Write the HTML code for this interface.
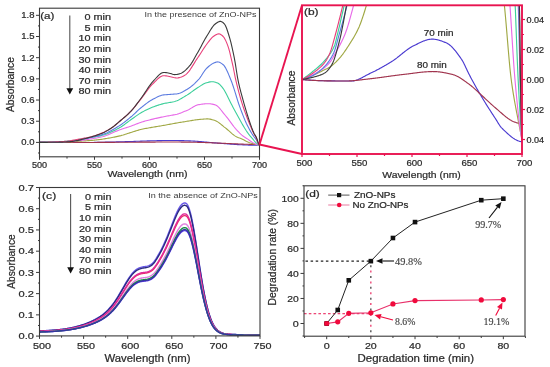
<!DOCTYPE html><html><head><meta charset="utf-8"><style>html,body{margin:0;padding:0;background:#fff;width:550px;height:367px;overflow:hidden}svg{display:block;will-change:transform}text{font-family:"Liberation Sans", sans-serif}</style></head><body>
<svg width="550" height="367" viewBox="0 0 550 367">
<defs>
<clipPath id="ca"><rect x="39.5" y="8.2" width="220.0" height="148.60000000000002"/></clipPath>
<clipPath id="cb"><rect x="302.0" y="5.3" width="220.0" height="148.7"/></clipPath>
<clipPath id="cc"><rect x="39.5" y="187.5" width="220.5" height="148.39999999999998"/></clipPath>
</defs>
<rect width="550" height="367" fill="#fff"/>
<path d="M39.5,142.4 L40.6,142.4 L41.7,142.41 L42.8,142.41 L43.9,142.42 L45,142.42 L46.1,142.42 L47.2,142.43 L48.3,142.43 L49.4,142.43 L50.5,142.44 L51.6,142.44 L52.7,142.44 L53.8,142.45 L54.9,142.45 L56,142.45 L57.1,142.45 L58.2,142.45 L59.3,142.46 L60.4,142.46 L61.5,142.46 L62.6,142.46 L63.7,142.46 L64.8,142.46 L65.9,142.46 L67,142.46 L68.1,142.47 L69.2,142.47 L70.3,142.47 L71.4,142.47 L72.5,142.47 L73.6,142.47 L74.7,142.47 L75.8,142.47 L76.9,142.47 L78,142.47 L79.1,142.47 L80.2,142.47 L81.3,142.47 L82.4,142.47 L83.5,142.47 L84.6,142.47 L85.7,142.47 L86.8,142.47 L87.9,142.47 L89,142.47 L90.1,142.47 L91.2,142.46 L92.3,142.45 L93.4,142.44 L94.5,142.42 L95.6,142.4 L96.7,142.38 L97.8,142.35 L98.9,142.33 L100,142.3 L101.1,142.27 L102.2,142.25 L103.3,142.22 L104.4,142.19 L105.5,142.16 L106.6,142.14 L107.7,142.11 L108.8,142.09 L109.9,142.06 L111,142.04 L112.1,142.01 L113.2,141.98 L114.3,141.96 L115.4,141.93 L116.5,141.9 L117.6,141.87 L118.7,141.85 L119.8,141.82 L120.9,141.79 L122,141.76 L123.1,141.73 L124.2,141.7 L125.3,141.67 L126.4,141.64 L127.5,141.6 L128.6,141.57 L129.7,141.54 L130.8,141.51 L131.9,141.47 L133,141.43 L134.1,141.39 L135.2,141.35 L136.3,141.31 L137.4,141.27 L138.5,141.23 L139.6,141.19 L140.7,141.14 L141.8,141.1 L142.9,141.06 L144,141.02 L145.1,140.99 L146.2,140.95 L147.3,140.91 L148.4,140.88 L149.5,140.85 L150.6,140.82 L151.7,140.8 L152.8,140.77 L153.9,140.75 L155,140.72 L156.1,140.7 L157.2,140.67 L158.3,140.65 L159.4,140.62 L160.5,140.6 L161.6,140.58 L162.7,140.56 L163.8,140.55 L164.9,140.53 L166,140.52 L167.1,140.51 L168.2,140.5 L169.3,140.5 L170.4,140.5 L171.5,140.51 L172.6,140.51 L173.7,140.52 L174.8,140.53 L175.9,140.54 L177,140.56 L178.1,140.57 L179.2,140.59 L180.3,140.61 L181.4,140.63 L182.5,140.65 L183.6,140.67 L184.7,140.7 L185.8,140.73 L186.9,140.76 L188,140.81 L189.1,140.86 L190.2,140.91 L191.3,140.96 L192.4,141.03 L193.5,141.09 L194.6,141.16 L195.7,141.23 L196.8,141.3 L197.9,141.37 L199,141.45 L200.1,141.53 L201.2,141.63 L202.3,141.73 L203.4,141.84 L204.5,141.95 L205.6,142.06 L206.7,142.17 L207.8,142.26 L208.9,142.36 L210,142.46 L211.1,142.55 L212.2,142.65 L213.3,142.74 L214.4,142.83 L215.5,142.92 L216.6,143.01 L217.7,143.1 L218.8,143.19 L219.9,143.27 L221,143.36 L222.1,143.44 L223.2,143.53 L224.3,143.61 L225.4,143.69 L226.5,143.77 L227.6,143.86 L228.7,143.94 L229.8,144.02 L230.9,144.1 L232,144.17 L233.1,144.25 L234.2,144.34 L235.3,144.42 L236.4,144.5 L237.5,144.58 L238.6,144.65 L239.7,144.7 L240.8,144.76 L241.9,144.81 L243,144.86 L244.1,144.9 L245.2,144.95 L246.3,145 L247.4,145.04 L248.5,145.08 L249.6,145.12 L250.7,145.16 L251.8,145.19 L252.9,145.22 L254,145.25 L255.1,145.28 L256.2,145.3 L257.3,145.31 L258.4,145.32 L259.5,145.33" fill="none" stroke="#4a3ad0" stroke-width="1.1" stroke-linejoin="round" clip-path="url(#ca)"/>
<path d="M39.5,142.4 L40.6,142.41 L41.7,142.41 L42.8,142.41 L43.9,142.42 L45,142.42 L46.1,142.43 L47.2,142.43 L48.3,142.43 L49.4,142.44 L50.5,142.44 L51.6,142.44 L52.7,142.45 L53.8,142.45 L54.9,142.45 L56,142.45 L57.1,142.46 L58.2,142.46 L59.3,142.46 L60.4,142.46 L61.5,142.46 L62.6,142.46 L63.7,142.46 L64.8,142.47 L65.9,142.47 L67,142.47 L68.1,142.47 L69.2,142.47 L70.3,142.47 L71.4,142.47 L72.5,142.47 L73.6,142.47 L74.7,142.47 L75.8,142.47 L76.9,142.47 L78,142.47 L79.1,142.47 L80.2,142.47 L81.3,142.47 L82.4,142.47 L83.5,142.47 L84.6,142.47 L85.7,142.47 L86.8,142.47 L87.9,142.46 L89,142.46 L90.1,142.46 L91.2,142.45 L92.3,142.45 L93.4,142.44 L94.5,142.44 L95.6,142.43 L96.7,142.43 L97.8,142.42 L98.9,142.41 L100,142.41 L101.1,142.4 L102.2,142.4 L103.3,142.39 L104.4,142.38 L105.5,142.38 L106.6,142.37 L107.7,142.36 L108.8,142.36 L109.9,142.35 L111,142.35 L112.1,142.34 L113.2,142.33 L114.3,142.33 L115.4,142.32 L116.5,142.31 L117.6,142.31 L118.7,142.3 L119.8,142.29 L120.9,142.29 L122,142.28 L123.1,142.27 L124.2,142.26 L125.3,142.26 L126.4,142.25 L127.5,142.24 L128.6,142.24 L129.7,142.23 L130.8,142.22 L131.9,142.22 L133,142.21 L134.1,142.2 L135.2,142.19 L136.3,142.19 L137.4,142.18 L138.5,142.18 L139.6,142.17 L140.7,142.16 L141.8,142.16 L142.9,142.15 L144,142.15 L145.1,142.14 L146.2,142.13 L147.3,142.13 L148.4,142.12 L149.5,142.11 L150.6,142.11 L151.7,142.1 L152.8,142.09 L153.9,142.09 L155,142.08 L156.1,142.07 L157.2,142.07 L158.3,142.06 L159.4,142.06 L160.5,142.05 L161.6,142.05 L162.7,142.04 L163.8,142.04 L164.9,142.03 L166,142.03 L167.1,142.03 L168.2,142.03 L169.3,142.03 L170.4,142.03 L171.5,142.03 L172.6,142.03 L173.7,142.03 L174.8,142.03 L175.9,142.04 L177,142.04 L178.1,142.05 L179.2,142.06 L180.3,142.07 L181.4,142.08 L182.5,142.09 L183.6,142.1 L184.7,142.11 L185.8,142.12 L186.9,142.13 L188,142.14 L189.1,142.15 L190.2,142.17 L191.3,142.18 L192.4,142.2 L193.5,142.22 L194.6,142.25 L195.7,142.27 L196.8,142.3 L197.9,142.33 L199,142.37 L200.1,142.4 L201.2,142.44 L202.3,142.48 L203.4,142.51 L204.5,142.55 L205.6,142.59 L206.7,142.63 L207.8,142.66 L208.9,142.71 L210,142.75 L211.1,142.8 L212.2,142.84 L213.3,142.89 L214.4,142.94 L215.5,142.99 L216.6,143.03 L217.7,143.08 L218.8,143.13 L219.9,143.17 L221,143.22 L222.1,143.27 L223.2,143.32 L224.3,143.37 L225.4,143.42 L226.5,143.47 L227.6,143.52 L228.7,143.56 L229.8,143.61 L230.9,143.65 L232,143.7 L233.1,143.74 L234.2,143.79 L235.3,143.83 L236.4,143.88 L237.5,143.92 L238.6,143.97 L239.7,144.01 L240.8,144.06 L241.9,144.1 L243,144.14 L244.1,144.18 L245.2,144.22 L246.3,144.26 L247.4,144.29 L248.5,144.32 L249.6,144.35 L250.7,144.38 L251.8,144.4 L252.9,144.42 L254,144.43 L255.1,144.45 L256.2,144.46 L257.3,144.48 L258.4,144.49 L259.5,144.5" fill="none" stroke="#a0344e" stroke-width="1.1" stroke-linejoin="round" clip-path="url(#ca)"/>
<path d="M39.5,142.4 L40.6,142.38 L41.7,142.36 L42.8,142.35 L43.9,142.33 L45,142.31 L46.1,142.29 L47.2,142.27 L48.3,142.25 L49.4,142.23 L50.5,142.2 L51.6,142.18 L52.7,142.16 L53.8,142.13 L54.9,142.11 L56,142.08 L57.1,142.06 L58.2,142.03 L59.3,142.01 L60.4,141.98 L61.5,141.95 L62.6,141.93 L63.7,141.9 L64.8,141.88 L65.9,141.85 L67,141.82 L68.1,141.79 L69.2,141.75 L70.3,141.71 L71.4,141.67 L72.5,141.62 L73.6,141.57 L74.7,141.52 L75.8,141.46 L76.9,141.4 L78,141.34 L79.1,141.28 L80.2,141.21 L81.3,141.14 L82.4,141.07 L83.5,140.99 L84.6,140.91 L85.7,140.83 L86.8,140.75 L87.9,140.67 L89,140.59 L90.1,140.51 L91.2,140.42 L92.3,140.33 L93.4,140.24 L94.5,140.13 L95.6,140.03 L96.7,139.91 L97.8,139.78 L98.9,139.65 L100,139.5 L101.1,139.34 L102.2,139.18 L103.3,139.01 L104.4,138.84 L105.5,138.66 L106.6,138.49 L107.7,138.3 L108.8,138.12 L109.9,137.93 L111,137.73 L112.1,137.53 L113.2,137.32 L114.3,137.1 L115.4,136.88 L116.5,136.65 L117.6,136.41 L118.7,136.16 L119.8,135.9 L120.9,135.63 L122,135.32 L123.1,135 L124.2,134.65 L125.3,134.3 L126.4,133.94 L127.5,133.57 L128.6,133.21 L129.7,132.86 L130.8,132.52 L131.9,132.18 L133,131.83 L134.1,131.49 L135.2,131.14 L136.3,130.79 L137.4,130.45 L138.5,130.13 L139.6,129.82 L140.7,129.53 L141.8,129.27 L142.9,129.03 L144,128.8 L145.1,128.58 L146.2,128.37 L147.3,128.17 L148.4,127.98 L149.5,127.79 L150.6,127.6 L151.7,127.41 L152.8,127.22 L153.9,127.03 L155,126.84 L156.1,126.66 L157.2,126.48 L158.3,126.3 L159.4,126.12 L160.5,125.94 L161.6,125.76 L162.7,125.58 L163.8,125.39 L164.9,125.19 L166,124.99 L167.1,124.78 L168.2,124.57 L169.3,124.36 L170.4,124.15 L171.5,123.94 L172.6,123.74 L173.7,123.53 L174.8,123.34 L175.9,123.15 L177,122.95 L178.1,122.77 L179.2,122.58 L180.3,122.4 L181.4,122.21 L182.5,122.03 L183.6,121.85 L184.7,121.68 L185.8,121.5 L186.9,121.33 L188,121.15 L189.1,120.96 L190.2,120.78 L191.3,120.59 L192.4,120.41 L193.5,120.24 L194.6,120.07 L195.7,119.91 L196.8,119.76 L197.9,119.63 L199,119.51 L200.1,119.4 L201.2,119.29 L202.3,119.19 L203.4,119.09 L204.5,119 L205.6,118.93 L206.7,118.9 L207.8,118.9 L208.9,118.98 L210,119.15 L211.1,119.39 L212.2,119.67 L213.3,119.99 L214.4,120.34 L215.5,120.71 L216.6,121.22 L217.7,121.86 L218.8,122.61 L219.9,123.44 L221,124.32 L222.1,125.24 L223.2,126.16 L224.3,127.07 L225.4,127.93 L226.5,128.79 L227.6,129.73 L228.7,130.7 L229.8,131.69 L230.9,132.68 L232,133.64 L233.1,134.55 L234.2,135.38 L235.3,136.13 L236.4,136.75 L237.5,137.26 L238.6,137.68 L239.7,138.07 L240.8,138.47 L241.9,138.92 L243,139.46 L244.1,140.05 L245.2,140.68 L246.3,141.29 L247.4,141.85 L248.5,142.32 L249.6,142.7 L250.7,143.04 L251.8,143.35 L252.9,143.64 L254,143.91 L255.1,144.18 L256.2,144.45 L257.3,144.72 L258.4,144.97 L259.5,145.22" fill="none" stroke="#a0a844" stroke-width="1.1" stroke-linejoin="round" clip-path="url(#ca)"/>
<path d="M39.5,142.4 L40.6,142.38 L41.7,142.36 L42.8,142.34 L43.9,142.32 L45,142.3 L46.1,142.27 L47.2,142.25 L48.3,142.22 L49.4,142.2 L50.5,142.17 L51.6,142.15 L52.7,142.12 L53.8,142.09 L54.9,142.06 L56,142.03 L57.1,142 L58.2,141.96 L59.3,141.93 L60.4,141.89 L61.5,141.86 L62.6,141.81 L63.7,141.77 L64.8,141.72 L65.9,141.67 L67,141.61 L68.1,141.55 L69.2,141.47 L70.3,141.38 L71.4,141.29 L72.5,141.19 L73.6,141.1 L74.7,141.01 L75.8,140.91 L76.9,140.82 L78,140.72 L79.1,140.62 L80.2,140.51 L81.3,140.4 L82.4,140.28 L83.5,140.14 L84.6,139.99 L85.7,139.83 L86.8,139.65 L87.9,139.47 L89,139.28 L90.1,139.08 L91.2,138.89 L92.3,138.7 L93.4,138.51 L94.5,138.32 L95.6,138.13 L96.7,137.93 L97.8,137.72 L98.9,137.5 L100,137.27 L101.1,137.02 L102.2,136.75 L103.3,136.45 L104.4,136.11 L105.5,135.74 L106.6,135.34 L107.7,134.91 L108.8,134.46 L109.9,134 L111,133.52 L112.1,133.04 L113.2,132.55 L114.3,132.07 L115.4,131.59 L116.5,131.13 L117.6,130.67 L118.7,130.24 L119.8,129.83 L120.9,129.45 L122,129.07 L123.1,128.7 L124.2,128.34 L125.3,127.99 L126.4,127.63 L127.5,127.28 L128.6,126.91 L129.7,126.54 L130.8,126.16 L131.9,125.76 L133,125.35 L134.1,124.93 L135.2,124.49 L136.3,124.06 L137.4,123.63 L138.5,123.21 L139.6,122.81 L140.7,122.43 L141.8,122.07 L142.9,121.73 L144,121.4 L145.1,121.09 L146.2,120.78 L147.3,120.49 L148.4,120.2 L149.5,119.92 L150.6,119.64 L151.7,119.37 L152.8,119.1 L153.9,118.84 L155,118.58 L156.1,118.34 L157.2,118.09 L158.3,117.85 L159.4,117.62 L160.5,117.38 L161.6,117.15 L162.7,116.93 L163.8,116.7 L164.9,116.48 L166,116.28 L167.1,116.08 L168.2,115.9 L169.3,115.71 L170.4,115.52 L171.5,115.33 L172.6,115.13 L173.7,114.91 L174.8,114.68 L175.9,114.43 L177,114.16 L178.1,113.85 L179.2,113.51 L180.3,113.13 L181.4,112.72 L182.5,112.28 L183.6,111.83 L184.7,111.36 L185.8,110.89 L186.9,110.41 L188,109.92 L189.1,109.4 L190.2,108.79 L191.3,108.13 L192.4,107.46 L193.5,106.79 L194.6,106.16 L195.7,105.61 L196.8,105.14 L197.9,104.81 L199,104.61 L200.1,104.44 L201.2,104.28 L202.3,104.14 L203.4,104.01 L204.5,103.9 L205.6,103.82 L206.7,103.75 L207.8,103.72 L208.9,103.72 L210,103.78 L211.1,103.92 L212.2,104.11 L213.3,104.35 L214.4,104.62 L215.5,104.96 L216.6,105.55 L217.7,106.4 L218.8,107.46 L219.9,108.68 L221,110 L222.1,111.4 L223.2,112.81 L224.3,114.19 L225.4,115.5 L226.5,116.8 L227.6,118.19 L228.7,119.64 L229.8,121.12 L230.9,122.62 L232,124.12 L233.1,125.59 L234.2,127.01 L235.3,128.36 L236.4,129.62 L237.5,130.82 L238.6,131.98 L239.7,133.11 L240.8,134.17 L241.9,135.15 L243,136.05 L244.1,136.82 L245.2,137.51 L246.3,138.17 L247.4,138.87 L248.5,139.65 L249.6,140.48 L250.7,141.29 L251.8,142.02 L252.9,142.63 L254,143.18 L255.1,143.71 L256.2,144.19 L257.3,144.62 L258.4,144.99 L259.5,145.29" fill="none" stroke="#e86ae8" stroke-width="1.1" stroke-linejoin="round" clip-path="url(#ca)"/>
<path d="M39.5,142.4 L40.6,142.37 L41.7,142.33 L42.8,142.29 L43.9,142.26 L45,142.22 L46.1,142.18 L47.2,142.14 L48.3,142.1 L49.4,142.06 L50.5,142.01 L51.6,141.97 L52.7,141.93 L53.8,141.89 L54.9,141.84 L56,141.8 L57.1,141.75 L58.2,141.71 L59.3,141.66 L60.4,141.6 L61.5,141.55 L62.6,141.49 L63.7,141.43 L64.8,141.37 L65.9,141.3 L67,141.24 L68.1,141.16 L69.2,141.07 L70.3,140.98 L71.4,140.87 L72.5,140.74 L73.6,140.54 L74.7,140.32 L75.8,140.11 L76.9,139.9 L78,139.67 L79.1,139.44 L80.2,139.22 L81.3,139 L82.4,138.79 L83.5,138.59 L84.6,138.41 L85.7,138.23 L86.8,138.06 L87.9,137.89 L89,137.73 L90.1,137.56 L91.2,137.4 L92.3,137.24 L93.4,137.07 L94.5,136.89 L95.6,136.71 L96.7,136.51 L97.8,136.31 L98.9,136.09 L100,135.86 L101.1,135.61 L102.2,135.34 L103.3,135.04 L104.4,134.71 L105.5,134.35 L106.6,133.96 L107.7,133.54 L108.8,133.09 L109.9,132.61 L111,132.12 L112.1,131.6 L113.2,131.07 L114.3,130.51 L115.4,129.95 L116.5,129.37 L117.6,128.78 L118.7,128.18 L119.8,127.57 L120.9,126.93 L122,126.23 L123.1,125.48 L124.2,124.7 L125.3,123.88 L126.4,123.06 L127.5,122.22 L128.6,121.4 L129.7,120.59 L130.8,119.81 L131.9,119.04 L133,118.25 L134.1,117.46 L135.2,116.67 L136.3,115.88 L137.4,115.11 L138.5,114.37 L139.6,113.65 L140.7,112.96 L141.8,112.32 L142.9,111.72 L144,111.13 L145.1,110.56 L146.2,110 L147.3,109.47 L148.4,108.95 L149.5,108.46 L150.6,107.99 L151.7,107.53 L152.8,107.1 L153.9,106.68 L155,106.28 L156.1,105.88 L157.2,105.5 L158.3,105.14 L159.4,104.79 L160.5,104.46 L161.6,104.14 L162.7,103.85 L163.8,103.57 L164.9,103.32 L166,103.11 L167.1,102.92 L168.2,102.74 L169.3,102.57 L170.4,102.39 L171.5,102.2 L172.6,101.98 L173.7,101.74 L174.8,101.45 L175.9,101.1 L177,100.68 L178.1,100.18 L179.2,99.64 L180.3,99.05 L181.4,98.42 L182.5,97.77 L183.6,97.11 L184.7,96.45 L185.8,95.8 L186.9,95.14 L188,94.43 L189.1,93.69 L190.2,92.93 L191.3,92.14 L192.4,91.35 L193.5,90.56 L194.6,89.77 L195.7,89 L196.8,88.25 L197.9,87.54 L199,86.84 L200.1,86.13 L201.2,85.4 L202.3,84.7 L203.4,84.06 L204.5,83.51 L205.6,83.1 L206.7,82.75 L207.8,82.43 L208.9,82.13 L210,81.9 L211.1,81.74 L212.2,81.68 L213.3,81.76 L214.4,81.96 L215.5,82.27 L216.6,82.66 L217.7,83.1 L218.8,83.74 L219.9,84.69 L221,85.85 L222.1,87.12 L223.2,88.55 L224.3,90.25 L225.4,92.17 L226.5,94.25 L227.6,96.44 L228.7,98.7 L229.8,100.98 L230.9,103.22 L232,105.37 L233.1,107.41 L234.2,109.44 L235.3,111.48 L236.4,113.53 L237.5,115.57 L238.6,117.59 L239.7,119.59 L240.8,121.56 L241.9,123.49 L243,125.36 L244.1,127.18 L245.2,128.98 L246.3,130.73 L247.4,132.39 L248.5,133.93 L249.6,135.32 L250.7,136.6 L251.8,137.85 L252.9,139.13 L254,140.52 L255.1,141.84 L256.2,142.9 L257.3,143.84 L258.4,144.65 L259.5,145.29" fill="none" stroke="#3ccf9a" stroke-width="1.1" stroke-linejoin="round" clip-path="url(#ca)"/>
<path d="M39.5,142.4 L40.6,142.39 L41.7,142.38 L42.8,142.36 L43.9,142.34 L45,142.32 L46.1,142.3 L47.2,142.28 L48.3,142.26 L49.4,142.23 L50.5,142.21 L51.6,142.18 L52.7,142.15 L53.8,142.12 L54.9,142.08 L56,142.04 L57.1,142 L58.2,141.96 L59.3,141.91 L60.4,141.86 L61.5,141.81 L62.6,141.76 L63.7,141.7 L64.8,141.64 L65.9,141.57 L67,141.5 L68.1,141.42 L69.2,141.33 L70.3,141.23 L71.4,141.12 L72.5,140.99 L73.6,140.82 L74.7,140.63 L75.8,140.43 L76.9,140.24 L78,140.06 L79.1,139.87 L80.2,139.69 L81.3,139.5 L82.4,139.31 L83.5,139.1 L84.6,138.89 L85.7,138.67 L86.8,138.45 L87.9,138.23 L89,138.01 L90.1,137.78 L91.2,137.54 L92.3,137.3 L93.4,137.05 L94.5,136.79 L95.6,136.53 L96.7,136.25 L97.8,135.95 L98.9,135.65 L100,135.33 L101.1,134.99 L102.2,134.63 L103.3,134.25 L104.4,133.83 L105.5,133.38 L106.6,132.9 L107.7,132.39 L108.8,131.85 L109.9,131.29 L111,130.71 L112.1,130.1 L113.2,129.48 L114.3,128.84 L115.4,128.18 L116.5,127.51 L117.6,126.83 L118.7,126.15 L119.8,125.46 L120.9,124.74 L122,123.98 L123.1,123.18 L124.2,122.35 L125.3,121.49 L126.4,120.61 L127.5,119.72 L128.6,118.81 L129.7,117.9 L130.8,116.98 L131.9,116.05 L133,115.07 L134.1,114.06 L135.2,113.03 L136.3,111.99 L137.4,110.96 L138.5,109.94 L139.6,108.95 L140.7,108 L141.8,107.1 L142.9,106.23 L144,105.36 L145.1,104.5 L146.2,103.66 L147.3,102.84 L148.4,102.05 L149.5,101.29 L150.6,100.59 L151.7,99.93 L152.8,99.33 L153.9,98.76 L155,98.19 L156.1,97.62 L157.2,97.08 L158.3,96.57 L159.4,96.1 L160.5,95.68 L161.6,95.34 L162.7,95.07 L163.8,94.89 L164.9,94.77 L166,94.68 L167.1,94.61 L168.2,94.54 L169.3,94.47 L170.4,94.39 L171.5,94.31 L172.6,94.23 L173.7,94.16 L174.8,94.07 L175.9,93.96 L177,93.83 L178.1,93.62 L179.2,93.32 L180.3,92.93 L181.4,92.46 L182.5,91.93 L183.6,91.35 L184.7,90.73 L185.8,90.08 L186.9,89.41 L188,88.74 L189.1,88.04 L190.2,87.27 L191.3,86.43 L192.4,85.52 L193.5,84.56 L194.6,83.55 L195.7,82.48 L196.8,81.37 L197.9,80.22 L199,79.01 L200.1,77.57 L201.2,75.96 L202.3,74.26 L203.4,72.56 L204.5,70.94 L205.6,69.48 L206.7,68.27 L207.8,67.24 L208.9,66.26 L210,65.37 L211.1,64.57 L212.2,63.88 L213.3,63.33 L214.4,62.84 L215.5,62.38 L216.6,62.05 L217.7,61.92 L218.8,62.07 L219.9,62.49 L221,63.12 L222.1,63.89 L223.2,64.74 L224.3,65.9 L225.4,67.58 L226.5,69.67 L227.6,72.06 L228.7,74.65 L229.8,77.33 L230.9,79.99 L232,82.81 L233.1,85.98 L234.2,89.38 L235.3,92.93 L236.4,96.53 L237.5,100.07 L238.6,103.46 L239.7,106.61 L240.8,109.58 L241.9,112.51 L243,115.37 L244.1,118.12 L245.2,120.73 L246.3,123.18 L247.4,125.44 L248.5,127.6 L249.6,129.66 L250.7,131.62 L251.8,133.46 L252.9,135.17 L254,136.75 L255.1,138.03 L256.2,139.61 L257.3,141.8 L258.4,143.66 L259.5,145.29" fill="none" stroke="#5b7be0" stroke-width="1.1" stroke-linejoin="round" clip-path="url(#ca)"/>
<path d="M39.5,142.4 L40.6,142.38 L41.7,142.35 L42.8,142.32 L43.9,142.3 L45,142.27 L46.1,142.23 L47.2,142.2 L48.3,142.17 L49.4,142.13 L50.5,142.1 L51.6,142.06 L52.7,142.02 L53.8,141.98 L54.9,141.94 L56,141.9 L57.1,141.86 L58.2,141.81 L59.3,141.76 L60.4,141.7 L61.5,141.64 L62.6,141.58 L63.7,141.5 L64.8,141.41 L65.9,141.31 L67,141.2 L68.1,141.07 L69.2,140.92 L70.3,140.74 L71.4,140.55 L72.5,140.35 L73.6,140.16 L74.7,139.97 L75.8,139.77 L76.9,139.56 L78,139.35 L79.1,139.14 L80.2,138.93 L81.3,138.73 L82.4,138.52 L83.5,138.33 L84.6,138.13 L85.7,137.93 L86.8,137.72 L87.9,137.5 L89,137.27 L90.1,137.02 L91.2,136.75 L92.3,136.46 L93.4,136.14 L94.5,135.8 L95.6,135.43 L96.7,135.04 L97.8,134.64 L98.9,134.22 L100,133.78 L101.1,133.33 L102.2,132.87 L103.3,132.39 L104.4,131.89 L105.5,131.36 L106.6,130.8 L107.7,130.22 L108.8,129.6 L109.9,128.96 L111,128.28 L112.1,127.55 L113.2,126.74 L114.3,125.89 L115.4,124.99 L116.5,124.06 L117.6,123.11 L118.7,122.16 L119.8,121.22 L120.9,120.29 L122,119.37 L123.1,118.43 L124.2,117.49 L125.3,116.54 L126.4,115.56 L127.5,114.56 L128.6,113.52 L129.7,112.45 L130.8,111.34 L131.9,110.16 L133,108.92 L134.1,107.63 L135.2,106.3 L136.3,104.93 L137.4,103.53 L138.5,102.12 L139.6,100.71 L140.7,99.31 L141.8,97.92 L142.9,96.51 L144,95.02 L145.1,93.5 L146.2,91.96 L147.3,90.43 L148.4,88.94 L149.5,87.5 L150.6,86.15 L151.7,84.91 L152.8,83.8 L153.9,82.74 L155,81.64 L156.1,80.53 L157.2,79.46 L158.3,78.45 L159.4,77.55 L160.5,76.79 L161.6,76.2 L162.7,75.82 L163.8,75.68 L164.9,75.74 L166,75.87 L167.1,76.07 L168.2,76.3 L169.3,76.53 L170.4,76.74 L171.5,76.96 L172.6,77.22 L173.7,77.48 L174.8,77.71 L175.9,77.88 L177,77.94 L178.1,77.87 L179.2,77.66 L180.3,77.33 L181.4,76.91 L182.5,76.43 L183.6,75.89 L184.7,75.33 L185.8,74.62 L186.9,73.66 L188,72.47 L189.1,71.09 L190.2,69.56 L191.3,67.9 L192.4,66.17 L193.5,64.39 L194.6,62.59 L195.7,60.82 L196.8,59.1 L197.9,57.47 L199,55.86 L200.1,54.18 L201.2,52.46 L202.3,50.74 L203.4,49.03 L204.5,47.36 L205.6,45.77 L206.7,44.27 L207.8,42.79 L208.9,41.3 L210,39.86 L211.1,38.54 L212.2,37.4 L213.3,36.5 L214.4,35.74 L215.5,35.02 L216.6,34.4 L217.7,33.98 L218.8,33.82 L219.9,34.04 L221,34.65 L222.1,35.51 L223.2,36.5 L224.3,37.89 L225.4,39.9 L226.5,42.36 L227.6,45.11 L228.7,48.42 L229.8,52.48 L230.9,57.04 L232,61.85 L233.1,66.74 L234.2,72.25 L235.3,77.77 L236.4,82.6 L237.5,87.09 L238.6,91.36 L239.7,95.41 L240.8,99.24 L241.9,102.86 L243,106.28 L244.1,109.52 L245.2,112.6 L246.3,115.56 L247.4,118.43 L248.5,121.22 L249.6,123.96 L250.7,126.63 L251.8,129.2 L252.9,131.65 L254,133.93 L255.1,135.79 L256.2,137.64 L257.3,140.89 L258.4,143.83 L259.5,145.22" fill="none" stroke="#e8407a" stroke-width="1.1" stroke-linejoin="round" clip-path="url(#ca)"/>
<path d="M39.5,142.4 L40.6,142.39 L41.7,142.38 L42.8,142.38 L43.9,142.37 L45,142.35 L46.1,142.34 L47.2,142.33 L48.3,142.32 L49.4,142.31 L50.5,142.29 L51.6,142.28 L52.7,142.27 L53.8,142.25 L54.9,142.24 L56,142.22 L57.1,142.2 L58.2,142.18 L59.3,142.16 L60.4,142.14 L61.5,142.11 L62.6,142.08 L63.7,142.04 L64.8,141.99 L65.9,141.93 L67,141.87 L68.1,141.79 L69.2,141.71 L70.3,141.61 L71.4,141.49 L72.5,141.34 L73.6,141.17 L74.7,140.99 L75.8,140.79 L76.9,140.59 L78,140.38 L79.1,140.14 L80.2,139.88 L81.3,139.61 L82.4,139.33 L83.5,139.04 L84.6,138.75 L85.7,138.46 L86.8,138.16 L87.9,137.87 L89,137.57 L90.1,137.27 L91.2,136.96 L92.3,136.64 L93.4,136.32 L94.5,135.98 L95.6,135.63 L96.7,135.27 L97.8,134.89 L98.9,134.5 L100,134.1 L101.1,133.67 L102.2,133.22 L103.3,132.74 L104.4,132.21 L105.5,131.63 L106.6,131.02 L107.7,130.37 L108.8,129.7 L109.9,129 L111,128.28 L112.1,127.52 L113.2,126.71 L114.3,125.85 L115.4,124.95 L116.5,124.03 L117.6,123.1 L118.7,122.16 L119.8,121.22 L120.9,120.29 L122,119.37 L123.1,118.45 L124.2,117.52 L125.3,116.57 L126.4,115.6 L127.5,114.59 L128.6,113.55 L129.7,112.47 L130.8,111.34 L131.9,110.13 L133,108.85 L134.1,107.51 L135.2,106.11 L136.3,104.67 L137.4,103.2 L138.5,101.71 L139.6,100.21 L140.7,98.7 L141.8,97.22 L142.9,95.69 L144,94.08 L145.1,92.41 L146.2,90.73 L147.3,89.04 L148.4,87.39 L149.5,85.8 L150.6,84.3 L151.7,82.92 L152.8,81.68 L153.9,80.49 L155,79.25 L156.1,78.01 L157.2,76.79 L158.3,75.65 L159.4,74.63 L160.5,73.76 L161.6,73.09 L162.7,72.66 L163.8,72.51 L164.9,72.55 L166,72.66 L167.1,72.83 L168.2,73.02 L169.3,73.21 L170.4,73.48 L171.5,73.84 L172.6,74.22 L173.7,74.51 L174.8,74.62 L175.9,74.57 L177,74.41 L178.1,74.17 L179.2,73.88 L180.3,73.57 L181.4,73.14 L182.5,72.53 L183.6,71.76 L184.7,70.86 L185.8,69.85 L186.9,68.76 L188,67.61 L189.1,66.43 L190.2,65.12 L191.3,63.57 L192.4,61.85 L193.5,59.99 L194.6,58.05 L195.7,56.07 L196.8,54.09 L197.9,52.17 L199,50.24 L200.1,48.23 L201.2,46.17 L202.3,44.1 L203.4,42.04 L204.5,40.03 L205.6,38.1 L206.7,36.29 L207.8,34.5 L208.9,32.66 L210,30.83 L211.1,29.07 L212.2,27.43 L213.3,25.96 L214.4,24.73 L215.5,23.79 L216.6,23.01 L217.7,22.28 L218.8,21.7 L219.9,21.37 L221,21.39 L222.1,21.89 L223.2,22.74 L224.3,23.79 L225.4,25.45 L226.5,28.03 L227.6,31.23 L228.7,34.73 L229.8,38.34 L230.9,42.44 L232,47.05 L233.1,52.08 L234.2,57.43 L235.3,63.43 L236.4,70.5 L237.5,77.36 L238.6,82.85 L239.7,87.58 L240.8,91.89 L241.9,95.93 L243,99.87 L244.1,103.82 L245.2,107.69 L246.3,111.44 L247.4,115.03 L248.5,118.44 L249.6,121.7 L250.7,124.87 L251.8,127.9 L252.9,130.7 L254,133.22 L255.1,135.16 L256.2,136.92 L257.3,139.65 L258.4,143.5 L259.5,145.22" fill="none" stroke="#3a3a3a" stroke-width="1.1" stroke-linejoin="round" clip-path="url(#ca)"/>
<rect x="39.5" y="8.2" width="220.0" height="148.60000000000002" fill="none" stroke="#3a3a3a" stroke-width="1.1"/>
<line x1="36" y1="142.4" x2="39.5" y2="142.4" stroke="#3a3a3a" stroke-width="1.0"/>
<text x="34.5" y="145.3" font-size="8.6" text-anchor="end" fill="#2a2a2a" stroke="#2a2a2a" stroke-width="0.22" textLength="13.2" lengthAdjust="spacingAndGlyphs">0.0</text>
<line x1="36" y1="121.22" x2="39.5" y2="121.22" stroke="#3a3a3a" stroke-width="1.0"/>
<text x="34.5" y="124.12" font-size="8.6" text-anchor="end" fill="#2a2a2a" stroke="#2a2a2a" stroke-width="0.22" textLength="13.2" lengthAdjust="spacingAndGlyphs">0.3</text>
<line x1="36" y1="100.04" x2="39.5" y2="100.04" stroke="#3a3a3a" stroke-width="1.0"/>
<text x="34.5" y="102.94" font-size="8.6" text-anchor="end" fill="#2a2a2a" stroke="#2a2a2a" stroke-width="0.22" textLength="13.2" lengthAdjust="spacingAndGlyphs">0.6</text>
<line x1="36" y1="78.86" x2="39.5" y2="78.86" stroke="#3a3a3a" stroke-width="1.0"/>
<text x="34.5" y="81.76" font-size="8.6" text-anchor="end" fill="#2a2a2a" stroke="#2a2a2a" stroke-width="0.22" textLength="13.2" lengthAdjust="spacingAndGlyphs">0.9</text>
<line x1="36" y1="57.68" x2="39.5" y2="57.68" stroke="#3a3a3a" stroke-width="1.0"/>
<text x="34.5" y="60.58" font-size="8.6" text-anchor="end" fill="#2a2a2a" stroke="#2a2a2a" stroke-width="0.22" textLength="13.2" lengthAdjust="spacingAndGlyphs">1.2</text>
<line x1="36" y1="36.5" x2="39.5" y2="36.5" stroke="#3a3a3a" stroke-width="1.0"/>
<text x="34.5" y="39.4" font-size="8.6" text-anchor="end" fill="#2a2a2a" stroke="#2a2a2a" stroke-width="0.22" textLength="13.2" lengthAdjust="spacingAndGlyphs">1.5</text>
<line x1="36" y1="15.32" x2="39.5" y2="15.32" stroke="#3a3a3a" stroke-width="1.0"/>
<text x="34.5" y="18.22" font-size="8.6" text-anchor="end" fill="#2a2a2a" stroke="#2a2a2a" stroke-width="0.22" textLength="13.2" lengthAdjust="spacingAndGlyphs">1.8</text>
<line x1="38" y1="152.99" x2="39.5" y2="152.99" stroke="#3a3a3a" stroke-width="1.0"/>
<line x1="38" y1="131.81" x2="39.5" y2="131.81" stroke="#3a3a3a" stroke-width="1.0"/>
<line x1="38" y1="110.63" x2="39.5" y2="110.63" stroke="#3a3a3a" stroke-width="1.0"/>
<line x1="38" y1="89.45" x2="39.5" y2="89.45" stroke="#3a3a3a" stroke-width="1.0"/>
<line x1="38" y1="68.27" x2="39.5" y2="68.27" stroke="#3a3a3a" stroke-width="1.0"/>
<line x1="38" y1="47.09" x2="39.5" y2="47.09" stroke="#3a3a3a" stroke-width="1.0"/>
<line x1="38" y1="25.91" x2="39.5" y2="25.91" stroke="#3a3a3a" stroke-width="1.0"/>
<line x1="39.5" y1="156.8" x2="39.5" y2="159.8" stroke="#3a3a3a" stroke-width="1.0"/>
<text x="39.5" y="168" font-size="8.6" text-anchor="middle" fill="#2a2a2a" stroke="#2a2a2a" stroke-width="0.22" textLength="15.2" lengthAdjust="spacingAndGlyphs">500</text>
<line x1="94.5" y1="156.8" x2="94.5" y2="159.8" stroke="#3a3a3a" stroke-width="1.0"/>
<text x="94.5" y="168" font-size="8.6" text-anchor="middle" fill="#2a2a2a" stroke="#2a2a2a" stroke-width="0.22" textLength="15.2" lengthAdjust="spacingAndGlyphs">550</text>
<line x1="149.5" y1="156.8" x2="149.5" y2="159.8" stroke="#3a3a3a" stroke-width="1.0"/>
<text x="149.5" y="168" font-size="8.6" text-anchor="middle" fill="#2a2a2a" stroke="#2a2a2a" stroke-width="0.22" textLength="15.2" lengthAdjust="spacingAndGlyphs">600</text>
<line x1="204.5" y1="156.8" x2="204.5" y2="159.8" stroke="#3a3a3a" stroke-width="1.0"/>
<text x="204.5" y="168" font-size="8.6" text-anchor="middle" fill="#2a2a2a" stroke="#2a2a2a" stroke-width="0.22" textLength="15.2" lengthAdjust="spacingAndGlyphs">650</text>
<line x1="259.5" y1="156.8" x2="259.5" y2="159.8" stroke="#3a3a3a" stroke-width="1.0"/>
<text x="259.5" y="168" font-size="8.6" text-anchor="middle" fill="#2a2a2a" stroke="#2a2a2a" stroke-width="0.22" textLength="15.2" lengthAdjust="spacingAndGlyphs">700</text>
<line x1="67" y1="156.8" x2="67" y2="158.6" stroke="#3a3a3a" stroke-width="1.0"/>
<line x1="122" y1="156.8" x2="122" y2="158.6" stroke="#3a3a3a" stroke-width="1.0"/>
<line x1="177" y1="156.8" x2="177" y2="158.6" stroke="#3a3a3a" stroke-width="1.0"/>
<line x1="232" y1="156.8" x2="232" y2="158.6" stroke="#3a3a3a" stroke-width="1.0"/>
<text x="147.5" y="176.8" font-size="9.8" text-anchor="middle" fill="#2a2a2a" stroke="#2a2a2a" stroke-width="0.22" textLength="80" lengthAdjust="spacingAndGlyphs">Wavelength (nm)</text>
<text x="14.4" y="84.6" font-size="10.2" text-anchor="middle" fill="#2a2a2a" stroke="#2a2a2a" stroke-width="0.22" textLength="55" lengthAdjust="spacingAndGlyphs" transform="rotate(-90 14.4 84.6)">Absorbance</text>
<text x="40.2" y="18.8" font-size="9.2" text-anchor="start" fill="#2a2a2a" stroke="#2a2a2a" stroke-width="0.22" textLength="14.2" lengthAdjust="spacingAndGlyphs">(a)</text>
<text x="256.6" y="17" font-size="7.6" text-anchor="end" fill="#3a3a3a" stroke="#3a3a3a" stroke-width="0" textLength="112" lengthAdjust="spacingAndGlyphs">In the presence of ZnO-NPs</text>
<text x="111" y="20.17" font-size="9.0" text-anchor="end" fill="#2a2a2a" stroke="#2a2a2a" stroke-width="0.22" textLength="26.56" lengthAdjust="spacingAndGlyphs">0 min</text>
<text x="111" y="30.76" font-size="9.0" text-anchor="end" fill="#2a2a2a" stroke="#2a2a2a" stroke-width="0.22" textLength="26.56" lengthAdjust="spacingAndGlyphs">5 min</text>
<text x="111" y="41.35" font-size="9.0" text-anchor="end" fill="#2a2a2a" stroke="#2a2a2a" stroke-width="0.22" textLength="32.6" lengthAdjust="spacingAndGlyphs">10 min</text>
<text x="111" y="51.94" font-size="9.0" text-anchor="end" fill="#2a2a2a" stroke="#2a2a2a" stroke-width="0.22" textLength="32.6" lengthAdjust="spacingAndGlyphs">20 min</text>
<text x="111" y="62.53" font-size="9.0" text-anchor="end" fill="#2a2a2a" stroke="#2a2a2a" stroke-width="0.22" textLength="32.6" lengthAdjust="spacingAndGlyphs">30 min</text>
<text x="111" y="73.12" font-size="9.0" text-anchor="end" fill="#2a2a2a" stroke="#2a2a2a" stroke-width="0.22" textLength="32.6" lengthAdjust="spacingAndGlyphs">40 min</text>
<text x="111" y="83.71" font-size="9.0" text-anchor="end" fill="#2a2a2a" stroke="#2a2a2a" stroke-width="0.22" textLength="32.6" lengthAdjust="spacingAndGlyphs">70 min</text>
<text x="111" y="94.3" font-size="9.0" text-anchor="end" fill="#2a2a2a" stroke="#2a2a2a" stroke-width="0.22" textLength="32.6" lengthAdjust="spacingAndGlyphs">80 min</text>
<line x1="69.8" y1="15.4" x2="69.8" y2="89" stroke="#555" stroke-width="1.1"/>
<path d="M66.4,88.2 L73.2,88.2 L69.8,94.6 Z" fill="#111"/>
<line x1="259.5" y1="144.5" x2="302" y2="5.3" stroke="#e81450" stroke-width="1.9"/>
<line x1="259.5" y1="144.5" x2="302" y2="154" stroke="#e81450" stroke-width="1.9"/>
<path d="M302,79.5 L302.55,79.55 L303.1,79.6 L303.65,79.65 L304.2,79.69 L304.75,79.74 L305.3,79.78 L305.85,79.82 L306.4,79.87 L306.95,79.91 L307.5,79.95 L308.05,79.99 L308.6,80.02 L309.15,80.06 L309.7,80.1 L310.25,80.13 L310.8,80.17 L311.35,80.2 L311.9,80.23 L312.45,80.26 L313,80.29 L313.55,80.32 L314.1,80.35 L314.65,80.38 L315.2,80.41 L315.75,80.43 L316.3,80.46 L316.85,80.49 L317.4,80.51 L317.95,80.53 L318.5,80.56 L319.05,80.58 L319.6,80.6 L320.15,80.62 L320.7,80.64 L321.25,80.66 L321.8,80.68 L322.35,80.69 L322.9,80.71 L323.45,80.73 L324,80.74 L324.55,80.76 L325.1,80.77 L325.65,80.79 L326.2,80.8 L326.75,80.81 L327.3,80.82 L327.85,80.84 L328.4,80.85 L328.95,80.86 L329.5,80.87 L330.05,80.88 L330.6,80.89 L331.15,80.9 L331.7,80.9 L332.25,80.91 L332.8,80.92 L333.35,80.93 L333.9,80.93 L334.45,80.94 L335,80.94 L335.55,80.95 L336.1,80.95 L336.65,80.96 L337.2,80.96 L337.75,80.97 L338.3,80.97 L338.85,80.97 L339.4,80.98 L339.95,80.98 L340.5,80.98 L341.05,80.99 L341.6,80.99 L342.15,80.99 L342.7,80.99 L343.25,80.99 L343.8,80.99 L344.35,81 L344.9,81 L345.45,81 L346,81 L346.55,81 L347.1,81 L347.65,81 L348.2,81 L348.75,81 L349.3,81 L349.85,81 L350.4,81 L350.95,81 L351.5,81 L352.05,80.99 L352.6,80.95 L353.15,80.89 L353.7,80.81 L354.25,80.71 L354.8,80.59 L355.35,80.45 L355.9,80.3 L356.45,80.13 L357,79.94 L357.55,79.73 L358.1,79.52 L358.65,79.29 L359.2,79.05 L359.75,78.8 L360.3,78.54 L360.85,78.27 L361.4,77.99 L361.95,77.71 L362.5,77.42 L363.05,77.12 L363.6,76.83 L364.15,76.53 L364.7,76.23 L365.25,75.93 L365.8,75.62 L366.35,75.32 L366.9,75.03 L367.45,74.73 L368,74.44 L368.55,74.16 L369.1,73.88 L369.65,73.61 L370.2,73.35 L370.75,73.09 L371.3,72.83 L371.85,72.57 L372.4,72.3 L372.95,72.03 L373.5,71.76 L374.05,71.49 L374.6,71.21 L375.15,70.94 L375.7,70.65 L376.25,70.37 L376.8,70.09 L377.35,69.8 L377.9,69.51 L378.45,69.22 L379,68.92 L379.55,68.63 L380.1,68.33 L380.65,68.03 L381.2,67.72 L381.75,67.42 L382.3,67.11 L382.85,66.8 L383.4,66.49 L383.95,66.17 L384.5,65.86 L385.05,65.54 L385.6,65.22 L386.15,64.9 L386.7,64.57 L387.25,64.25 L387.8,63.92 L388.35,63.59 L388.9,63.26 L389.45,62.92 L390,62.59 L390.55,62.25 L391.1,61.91 L391.65,61.57 L392.2,61.22 L392.75,60.86 L393.3,60.5 L393.85,60.12 L394.4,59.73 L394.95,59.33 L395.5,58.93 L396.05,58.51 L396.6,58.1 L397.15,57.67 L397.7,57.24 L398.25,56.81 L398.8,56.37 L399.35,55.93 L399.9,55.48 L400.45,55.04 L401,54.59 L401.55,54.15 L402.1,53.7 L402.65,53.26 L403.2,52.82 L403.75,52.38 L404.3,51.94 L404.85,51.51 L405.4,51.08 L405.95,50.66 L406.5,50.25 L407.05,49.84 L407.6,49.44 L408.15,49.05 L408.7,48.66 L409.25,48.29 L409.8,47.93 L410.35,47.58 L410.9,47.24 L411.45,46.91 L412,46.6 L412.55,46.3 L413.1,46.02 L413.65,45.75 L414.2,45.49 L414.75,45.22 L415.3,44.95 L415.85,44.68 L416.4,44.41 L416.95,44.14 L417.5,43.87 L418.05,43.6 L418.6,43.33 L419.15,43.06 L419.7,42.8 L420.25,42.54 L420.8,42.28 L421.35,42.03 L421.9,41.78 L422.45,41.54 L423,41.31 L423.55,41.09 L424.1,40.87 L424.65,40.67 L425.2,40.47 L425.75,40.28 L426.3,40.11 L426.85,39.95 L427.4,39.8 L427.95,39.66 L428.5,39.54 L429.05,39.44 L429.6,39.35 L430.15,39.27 L430.7,39.21 L431.25,39.17 L431.8,39.15 L432.35,39.15 L432.9,39.17 L433.45,39.19 L434,39.24 L434.55,39.3 L435.1,39.37 L435.65,39.45 L436.2,39.55 L436.75,39.66 L437.3,39.78 L437.85,39.91 L438.4,40.05 L438.95,40.2 L439.5,40.36 L440.05,40.53 L440.6,40.7 L441.15,40.89 L441.7,41.08 L442.25,41.28 L442.8,41.48 L443.35,41.69 L443.9,41.91 L444.45,42.13 L445,42.35 L445.55,42.58 L446.1,42.81 L446.65,43.05 L447.2,43.32 L447.75,43.63 L448.3,43.97 L448.85,44.34 L449.4,44.75 L449.95,45.19 L450.5,45.66 L451.05,46.15 L451.6,46.68 L452.15,47.22 L452.7,47.8 L453.25,48.39 L453.8,49.01 L454.35,49.65 L454.9,50.31 L455.45,50.98 L456,51.67 L456.55,52.38 L457.1,53.1 L457.65,53.84 L458.2,54.59 L458.75,55.34 L459.3,56.11 L459.85,56.89 L460.4,57.67 L460.95,58.46 L461.5,59.25 L462.05,60.09 L462.6,61.01 L463.15,62 L463.7,63.05 L464.25,64.15 L464.8,65.29 L465.35,66.46 L465.9,67.65 L466.45,68.84 L467,70.03 L467.55,71.21 L468.1,72.36 L468.65,73.48 L469.2,74.55 L469.75,75.59 L470.3,76.63 L470.85,77.66 L471.4,78.69 L471.95,79.71 L472.5,80.73 L473.05,81.75 L473.6,82.75 L474.15,83.76 L474.7,84.75 L475.25,85.74 L475.8,86.73 L476.35,87.71 L476.9,88.68 L477.45,89.65 L478,90.61 L478.55,91.56 L479.1,92.51 L479.65,93.45 L480.2,94.38 L480.75,95.31 L481.3,96.24 L481.85,97.16 L482.4,98.07 L482.95,98.98 L483.5,99.88 L484.05,100.78 L484.6,101.68 L485.15,102.57 L485.7,103.46 L486.25,104.34 L486.8,105.22 L487.35,106.09 L487.9,106.97 L488.45,107.84 L489,108.7 L489.55,109.56 L490.1,110.42 L490.65,111.28 L491.2,112.13 L491.75,112.99 L492.3,113.84 L492.85,114.68 L493.4,115.53 L493.95,116.37 L494.5,117.21 L495.05,118.05 L495.6,118.9 L496.15,119.78 L496.7,120.67 L497.25,121.57 L497.8,122.47 L498.35,123.36 L498.9,124.22 L499.45,125.05 L500,125.85 L500.55,126.6 L501.1,127.29 L501.65,127.91 L502.2,128.47 L502.75,129.01 L503.3,129.55 L503.85,130.08 L504.4,130.61 L504.95,131.14 L505.5,131.67 L506.05,132.19 L506.6,132.7 L507.15,133.2 L507.7,133.7 L508.25,134.19 L508.8,134.67 L509.35,135.15 L509.9,135.61 L510.45,136.06 L511,136.5 L511.55,136.93 L512.1,137.34 L512.65,137.74 L513.2,138.13 L513.75,138.5 L514.3,138.85 L514.85,139.19 L515.4,139.51 L515.95,139.81 L516.5,140.09 L517.05,140.36 L517.6,140.6 L518.15,140.83 L518.7,141.03 L519.25,141.21 L519.8,141.37 L520.35,141.5 L520.9,141.61 L521.45,141.69 L522,141.75" fill="none" stroke="#4a3ad0" stroke-width="1.15" stroke-linejoin="round" clip-path="url(#cb)"/>
<path d="M302,79.5 L302.55,79.56 L303.1,79.61 L303.65,79.66 L304.2,79.71 L304.75,79.76 L305.3,79.81 L305.85,79.86 L306.4,79.91 L306.95,79.95 L307.5,80 L308.05,80.04 L308.6,80.08 L309.15,80.12 L309.7,80.16 L310.25,80.2 L310.8,80.23 L311.35,80.27 L311.9,80.3 L312.45,80.34 L313,80.37 L313.55,80.4 L314.1,80.43 L314.65,80.46 L315.2,80.49 L315.75,80.51 L316.3,80.54 L316.85,80.56 L317.4,80.59 L317.95,80.61 L318.5,80.63 L319.05,80.66 L319.6,80.68 L320.15,80.7 L320.7,80.71 L321.25,80.73 L321.8,80.75 L322.35,80.77 L322.9,80.78 L323.45,80.8 L324,80.81 L324.55,80.83 L325.1,80.84 L325.65,80.85 L326.2,80.86 L326.75,80.87 L327.3,80.88 L327.85,80.89 L328.4,80.9 L328.95,80.91 L329.5,80.92 L330.05,80.93 L330.6,80.94 L331.15,80.94 L331.7,80.95 L332.25,80.95 L332.8,80.96 L333.35,80.96 L333.9,80.97 L334.45,80.97 L335,80.98 L335.55,80.98 L336.1,80.98 L336.65,80.99 L337.2,80.99 L337.75,80.99 L338.3,80.99 L338.85,80.99 L339.4,80.99 L339.95,81 L340.5,81 L341.05,81 L341.6,81 L342.15,81 L342.7,81 L343.25,81 L343.8,81 L344.35,81 L344.9,81 L345.45,81 L346,81 L346.55,81 L347.1,80.99 L347.65,80.98 L348.2,80.97 L348.75,80.95 L349.3,80.93 L349.85,80.9 L350.4,80.87 L350.95,80.84 L351.5,80.81 L352.05,80.77 L352.6,80.73 L353.15,80.69 L353.7,80.64 L354.25,80.59 L354.8,80.54 L355.35,80.49 L355.9,80.44 L356.45,80.38 L357,80.32 L357.55,80.26 L358.1,80.2 L358.65,80.14 L359.2,80.07 L359.75,80.01 L360.3,79.94 L360.85,79.88 L361.4,79.81 L361.95,79.74 L362.5,79.67 L363.05,79.6 L363.6,79.54 L364.15,79.47 L364.7,79.4 L365.25,79.33 L365.8,79.26 L366.35,79.2 L366.9,79.13 L367.45,79.06 L368,79 L368.55,78.93 L369.1,78.87 L369.65,78.81 L370.2,78.75 L370.75,78.69 L371.3,78.63 L371.85,78.57 L372.4,78.5 L372.95,78.44 L373.5,78.38 L374.05,78.31 L374.6,78.24 L375.15,78.18 L375.7,78.11 L376.25,78.04 L376.8,77.97 L377.35,77.9 L377.9,77.83 L378.45,77.76 L379,77.68 L379.55,77.61 L380.1,77.54 L380.65,77.46 L381.2,77.39 L381.75,77.31 L382.3,77.24 L382.85,77.16 L383.4,77.09 L383.95,77.01 L384.5,76.93 L385.05,76.86 L385.6,76.78 L386.15,76.7 L386.7,76.63 L387.25,76.55 L387.8,76.47 L388.35,76.4 L388.9,76.32 L389.45,76.25 L390,76.17 L390.55,76.09 L391.1,76.02 L391.65,75.94 L392.2,75.87 L392.75,75.79 L393.3,75.72 L393.85,75.64 L394.4,75.57 L394.95,75.5 L395.5,75.42 L396.05,75.35 L396.6,75.28 L397.15,75.21 L397.7,75.14 L398.25,75.07 L398.8,75 L399.35,74.94 L399.9,74.87 L400.45,74.8 L401,74.74 L401.55,74.67 L402.1,74.61 L402.65,74.55 L403.2,74.49 L403.75,74.42 L404.3,74.36 L404.85,74.29 L405.4,74.23 L405.95,74.16 L406.5,74.09 L407.05,74.02 L407.6,73.95 L408.15,73.88 L408.7,73.81 L409.25,73.74 L409.8,73.67 L410.35,73.59 L410.9,73.52 L411.45,73.45 L412,73.38 L412.55,73.31 L413.1,73.23 L413.65,73.16 L414.2,73.09 L414.75,73.02 L415.3,72.95 L415.85,72.88 L416.4,72.81 L416.95,72.74 L417.5,72.68 L418.05,72.61 L418.6,72.55 L419.15,72.48 L419.7,72.42 L420.25,72.36 L420.8,72.3 L421.35,72.24 L421.9,72.19 L422.45,72.13 L423,72.08 L423.55,72.03 L424.1,71.98 L424.65,71.93 L425.2,71.89 L425.75,71.85 L426.3,71.81 L426.85,71.77 L427.4,71.74 L427.95,71.7 L428.5,71.67 L429.05,71.65 L429.6,71.62 L430.15,71.6 L430.7,71.59 L431.25,71.57 L431.8,71.56 L432.35,71.55 L432.9,71.55 L433.45,71.55 L434,71.56 L434.55,71.57 L435.1,71.59 L435.65,71.61 L436.2,71.64 L436.75,71.68 L437.3,71.72 L437.85,71.77 L438.4,71.82 L438.95,71.88 L439.5,71.94 L440.05,72.01 L440.6,72.08 L441.15,72.16 L441.7,72.24 L442.25,72.33 L442.8,72.42 L443.35,72.51 L443.9,72.61 L444.45,72.71 L445,72.81 L445.55,72.92 L446.1,73.03 L446.65,73.15 L447.2,73.26 L447.75,73.38 L448.3,73.5 L448.85,73.63 L449.4,73.76 L449.95,73.88 L450.5,74.01 L451.05,74.15 L451.6,74.28 L452.15,74.41 L452.7,74.55 L453.25,74.7 L453.8,74.86 L454.35,75.05 L454.9,75.25 L455.45,75.47 L456,75.71 L456.55,75.96 L457.1,76.23 L457.65,76.51 L458.2,76.81 L458.75,77.12 L459.3,77.44 L459.85,77.77 L460.4,78.11 L460.95,78.46 L461.5,78.82 L462.05,79.19 L462.6,79.56 L463.15,79.94 L463.7,80.33 L464.25,80.72 L464.8,81.11 L465.35,81.51 L465.9,81.9 L466.45,82.31 L467,82.71 L467.55,83.11 L468.1,83.51 L468.65,83.9 L469.2,84.3 L469.75,84.7 L470.3,85.12 L470.85,85.55 L471.4,86 L471.95,86.46 L472.5,86.93 L473.05,87.41 L473.6,87.9 L474.15,88.39 L474.7,88.89 L475.25,89.4 L475.8,89.91 L476.35,90.42 L476.9,90.93 L477.45,91.44 L478,91.95 L478.55,92.45 L479.1,92.96 L479.65,93.45 L480.2,93.94 L480.75,94.44 L481.3,94.95 L481.85,95.45 L482.4,95.96 L482.95,96.48 L483.5,96.99 L484.05,97.51 L484.6,98.03 L485.15,98.55 L485.7,99.07 L486.25,99.59 L486.8,100.11 L487.35,100.62 L487.9,101.14 L488.45,101.66 L489,102.17 L489.55,102.68 L490.1,103.19 L490.65,103.7 L491.2,104.2 L491.75,104.69 L492.3,105.18 L492.85,105.67 L493.4,106.15 L493.95,106.62 L494.5,107.09 L495.05,107.55 L495.6,108.01 L496.15,108.47 L496.7,108.95 L497.25,109.42 L497.8,109.9 L498.35,110.38 L498.9,110.87 L499.45,111.35 L500,111.84 L500.55,112.32 L501.1,112.8 L501.65,113.29 L502.2,113.76 L502.75,114.24 L503.3,114.71 L503.85,115.18 L504.4,115.64 L504.95,116.09 L505.5,116.53 L506.05,116.97 L506.6,117.39 L507.15,117.81 L507.7,118.22 L508.25,118.61 L508.8,118.99 L509.35,119.36 L509.9,119.71 L510.45,120.05 L511,120.37 L511.55,120.68 L512.1,120.96 L512.65,121.23 L513.2,121.48 L513.75,121.71 L514.3,121.93 L514.85,122.13 L515.4,122.33 L515.95,122.52 L516.5,122.71 L517.05,122.89 L517.6,123.06 L518.15,123.22 L518.7,123.37 L519.25,123.51 L519.8,123.64 L520.35,123.76 L520.9,123.87 L521.45,123.97 L522,124.05" fill="none" stroke="#a0344e" stroke-width="1.15" stroke-linejoin="round" clip-path="url(#cb)"/>
<path d="M302,79.5 L302.55,79.32 L303.1,79.13 L303.65,78.94 L304.2,78.75 L304.75,78.56 L305.3,78.36 L305.85,78.16 L306.4,77.96 L306.95,77.75 L307.5,77.54 L308.05,77.33 L308.6,77.12 L309.15,76.9 L309.7,76.68 L310.25,76.46 L310.8,76.24 L311.35,76.01 L311.9,75.78 L312.45,75.55 L313,75.32 L313.55,75.08 L314.1,74.84 L314.65,74.59 L315.2,74.34 L315.75,74.08 L316.3,73.83 L316.85,73.57 L317.4,73.3 L317.95,73.04 L318.5,72.77 L319.05,72.5 L319.6,72.23 L320.15,71.96 L320.7,71.68 L321.25,71.41 L321.8,71.13 L322.35,70.85 L322.9,70.58 L323.45,70.3 L324,70.03 L324.55,69.75 L325.1,69.48 L325.65,69.22 L326.2,68.95 L326.75,68.69 L327.3,68.43 L327.85,68.15 L328.4,67.86 L328.95,67.56 L329.5,67.24 L330.05,66.9 L330.6,66.53 L331.15,66.15 L331.7,65.74 L332.25,65.31 L332.8,64.86 L333.35,64.4 L333.9,63.91 L334.45,63.42 L335,62.9 L335.55,62.37 L336.1,61.83 L336.65,61.28 L337.2,60.71 L337.75,60.14 L338.3,59.55 L338.85,58.95 L339.4,58.35 L339.95,57.73 L340.5,57.08 L341.05,56.42 L341.6,55.72 L342.15,55.01 L342.7,54.28 L343.25,53.53 L343.8,52.76 L344.35,51.98 L344.9,51.19 L345.45,50.38 L346,49.56 L346.55,48.73 L347.1,47.89 L347.65,47.05 L348.2,46.2 L348.75,45.34 L349.3,44.49 L349.85,43.63 L350.4,42.77 L350.95,41.91 L351.5,41.04 L352.05,40.16 L352.6,39.26 L353.15,38.35 L353.7,37.43 L354.25,36.48 L354.8,35.52 L355.35,34.52 L355.9,33.5 L356.45,32.45 L357,31.37 L357.55,30.25 L358.1,29.1 L358.65,27.9 L359.2,26.65 L359.75,25.32 L360.3,23.93 L360.85,22.48 L361.4,20.98 L361.95,19.42 L362.5,17.81 L363.05,16.16 L363.6,14.48 L364.15,12.76 L364.7,11.01 L365.25,9.24 L365.8,7.45 L366.35,5.64 L366.9,3.81 L367.45,1.98 L368,0.12 L368.55,0 L503.3,0 L503.85,0.53 L504.4,5.54 L504.95,11.04 L505.5,16.97 L506.05,23.21 L506.6,29.67 L507.15,36.26 L507.7,42.88 L508.25,49.44 L508.8,55.82 L509.35,61.95 L509.9,67.71 L510.45,73.02 L511,77.78 L511.55,81.96 L512.1,85.88 L512.65,89.59 L513.2,93.11 L513.75,96.46 L514.3,99.67 L514.85,102.77 L515.4,105.76 L515.95,108.68 L516.5,111.56 L517.05,114.4 L517.6,117.24 L518.15,120.1 L518.7,123 L519.25,125.89 L519.8,128.72 L520.35,131.49 L520.9,134.2 L521.45,136.87 L522,139.5" fill="none" stroke="#a0a844" stroke-width="1.15" stroke-linejoin="round" clip-path="url(#cb)"/>
<path d="M302,79.5 L302.55,79.3 L303.1,79.1 L303.65,78.89 L304.2,78.68 L304.75,78.46 L305.3,78.24 L305.85,78.01 L306.4,77.78 L306.95,77.54 L307.5,77.3 L308.05,77.06 L308.6,76.81 L309.15,76.55 L309.7,76.3 L310.25,76.03 L310.8,75.77 L311.35,75.5 L311.9,75.22 L312.45,74.94 L313,74.66 L313.55,74.38 L314.1,74.09 L314.65,73.8 L315.2,73.51 L315.75,73.21 L316.3,72.9 L316.85,72.59 L317.4,72.28 L317.95,71.96 L318.5,71.63 L319.05,71.3 L319.6,70.96 L320.15,70.61 L320.7,70.25 L321.25,69.89 L321.8,69.51 L322.35,69.13 L322.9,68.74 L323.45,68.33 L324,67.92 L324.55,67.5 L325.1,67.06 L325.65,66.61 L326.2,66.13 L326.75,65.64 L327.3,65.12 L327.85,64.57 L328.4,64 L328.95,63.4 L329.5,62.76 L330.05,62.1 L330.6,61.38 L331.15,60.59 L331.7,59.73 L332.25,58.82 L332.8,57.87 L333.35,56.89 L333.9,55.89 L334.45,54.87 L335,53.86 L335.55,52.85 L336.1,51.86 L336.65,50.87 L337.2,49.89 L337.75,48.91 L338.3,47.92 L338.85,46.93 L339.4,45.92 L339.95,44.91 L340.5,43.87 L341.05,42.81 L341.6,41.72 L342.15,40.6 L342.7,39.45 L343.25,38.26 L343.8,37.03 L344.35,35.75 L344.9,34.42 L345.45,33.04 L346,31.57 L346.55,30 L347.1,28.36 L347.65,26.64 L348.2,24.85 L348.75,23.01 L349.3,21.11 L349.85,19.16 L350.4,17.18 L350.95,15.18 L351.5,13.14 L352.05,11.1 L352.6,9.05 L353.15,6.99 L353.7,4.95 L354.25,2.92 L354.8,0.91 L355.35,0 L509.35,0 L509.9,4.5 L510.45,12.57 L511,21.07 L511.55,29.81 L512.1,38.65 L512.65,47.4 L513.2,55.91 L513.75,64 L514.3,71.5 L514.85,78.25 L515.4,84.37 L515.95,90.34 L516.5,96.15 L517.05,101.8 L517.6,107.24 L518.15,112.47 L518.7,117.45 L519.25,122.17 L519.8,126.6 L520.35,130.73 L520.9,134.51 L521.45,137.95 L522,141" fill="none" stroke="#e86ae8" stroke-width="1.15" stroke-linejoin="round" clip-path="url(#cb)"/>
<path d="M302,79.5 L302.55,79.13 L303.1,78.76 L303.65,78.39 L304.2,78.01 L304.75,77.62 L305.3,77.23 L305.85,76.84 L306.4,76.44 L306.95,76.03 L307.5,75.63 L308.05,75.21 L308.6,74.8 L309.15,74.38 L309.7,73.95 L310.25,73.52 L310.8,73.09 L311.35,72.65 L311.9,72.21 L312.45,71.76 L313,71.31 L313.55,70.87 L314.1,70.42 L314.65,69.98 L315.2,69.53 L315.75,69.08 L316.3,68.63 L316.85,68.17 L317.4,67.7 L317.95,67.23 L318.5,66.75 L319.05,66.27 L319.6,65.77 L320.15,65.27 L320.7,64.75 L321.25,64.22 L321.8,63.68 L322.35,63.13 L322.9,62.56 L323.45,61.97 L324,61.37 L324.55,60.75 L325.1,60.12 L325.65,59.5 L326.2,58.87 L326.75,58.23 L327.3,57.58 L327.85,56.91 L328.4,56.22 L328.95,55.5 L329.5,54.76 L330.05,53.97 L330.6,53.14 L331.15,52.27 L331.7,51.34 L332.25,50.36 L332.8,49.32 L333.35,48.22 L333.9,47.04 L334.45,45.79 L335,44.2 L335.55,42.25 L336.1,40.06 L336.65,37.74 L337.2,35.4 L337.75,33.16 L338.3,30.92 L338.85,28.63 L339.4,26.28 L339.95,23.89 L340.5,21.49 L341.05,19.06 L341.6,16.64 L342.15,14.23 L342.7,11.85 L343.25,9.5 L343.8,7.19 L344.35,4.95 L344.9,2.77 L345.45,0.66 L346,0 L514.85,0 L515.4,10.13 L515.95,24.73 L516.5,39.6 L517.05,54.1 L517.6,67.61 L518.15,79.5 L518.7,90.17 L519.25,100.37 L519.8,110.01 L520.35,118.99 L520.9,127.22 L521.45,134.59 L522,141" fill="none" stroke="#3ccf9a" stroke-width="1.15" stroke-linejoin="round" clip-path="url(#cb)"/>
<path d="M302,79.5 L302.55,79.39 L303.1,79.27 L303.65,79.14 L304.2,79 L304.75,78.84 L305.3,78.67 L305.85,78.49 L306.4,78.3 L306.95,78.1 L307.5,77.9 L308.05,77.68 L308.6,77.45 L309.15,77.22 L309.7,76.98 L310.25,76.73 L310.8,76.48 L311.35,76.23 L311.9,75.96 L312.45,75.7 L313,75.42 L313.55,75.13 L314.1,74.82 L314.65,74.5 L315.2,74.17 L315.75,73.82 L316.3,73.46 L316.85,73.08 L317.4,72.7 L317.95,72.29 L318.5,71.88 L319.05,71.45 L319.6,71.01 L320.15,70.55 L320.7,70.08 L321.25,69.6 L321.8,69.11 L322.35,68.6 L322.9,68.08 L323.45,67.55 L324,67.01 L324.55,66.45 L325.1,65.88 L325.65,65.28 L326.2,64.67 L326.75,64.02 L327.3,63.35 L327.85,62.65 L328.4,61.92 L328.95,61.16 L329.5,60.36 L330.05,59.52 L330.6,58.64 L331.15,57.72 L331.7,56.76 L332.25,55.74 L332.8,54.69 L333.35,53.58 L333.9,52.41 L334.45,51.06 L335,49.5 L335.55,47.77 L336.1,45.89 L336.65,43.9 L337.2,41.85 L337.75,39.75 L338.3,37.66 L338.85,35.59 L339.4,33.6 L339.95,31.66 L340.5,29.72 L341.05,27.78 L341.6,25.84 L342.15,23.89 L342.7,21.92 L343.25,19.94 L343.8,17.92 L344.35,15.87 L344.9,13.79 L345.45,11.66 L346,9.48 L346.55,7.24 L347.1,4.95 L347.65,2.63 L348.2,0.3 L348.75,0 L517.6,0 L518.15,1.17 L518.7,20.16 L519.25,43.22 L519.8,66.72 L520.35,87.37 L520.9,106.36 L521.45,124.27 L522,141" fill="none" stroke="#5b7be0" stroke-width="1.15" stroke-linejoin="round" clip-path="url(#cb)"/>
<path d="M302,79.5 L302.55,79.25 L303.1,79 L303.65,78.73 L304.2,78.46 L304.75,78.17 L305.3,77.88 L305.85,77.58 L306.4,77.27 L306.95,76.96 L307.5,76.64 L308.05,76.31 L308.6,75.97 L309.15,75.62 L309.7,75.27 L310.25,74.91 L310.8,74.55 L311.35,74.18 L311.9,73.8 L312.45,73.42 L313,73.04 L313.55,72.65 L314.1,72.26 L314.65,71.87 L315.2,71.47 L315.75,71.06 L316.3,70.65 L316.85,70.23 L317.4,69.79 L317.95,69.35 L318.5,68.89 L319.05,68.42 L319.6,67.94 L320.15,67.43 L320.7,66.92 L321.25,66.38 L321.8,65.82 L322.35,65.24 L322.9,64.64 L323.45,64.02 L324,63.37 L324.55,62.7 L325.1,61.98 L325.65,61.19 L326.2,60.34 L326.75,59.43 L327.3,58.45 L327.85,57.41 L328.4,56.31 L328.95,55.15 L329.5,53.93 L330.05,52.65 L330.6,51.25 L331.15,49.68 L331.7,47.97 L332.25,46.14 L332.8,44.21 L333.35,42.21 L333.9,40.17 L334.45,38.1 L335,36.04 L335.55,34 L336.1,31.99 L336.65,29.93 L337.2,27.85 L337.75,25.73 L338.3,23.59 L338.85,21.42 L339.4,19.23 L339.95,17.02 L340.5,14.8 L341.05,12.56 L341.6,10.33 L342.15,8.09 L342.7,5.85 L343.25,3.62 L343.8,1.43 L344.35,0 L518.7,0 L519.25,4.5 L519.8,47.42 L520.35,84.84 L520.9,109.9 L521.45,129.41 L522,139.5" fill="none" stroke="#e8407a" stroke-width="1.15" stroke-linejoin="round" clip-path="url(#cb)"/>
<path d="M302,79.5 L302.55,79.42 L303.1,79.34 L303.65,79.26 L304.2,79.17 L304.75,79.07 L305.3,78.98 L305.85,78.87 L306.4,78.77 L306.95,78.66 L307.5,78.54 L308.05,78.42 L308.6,78.3 L309.15,78.18 L309.7,78.05 L310.25,77.92 L310.8,77.79 L311.35,77.65 L311.9,77.51 L312.45,77.37 L313,77.23 L313.55,77.09 L314.1,76.95 L314.65,76.8 L315.2,76.66 L315.75,76.51 L316.3,76.35 L316.85,76.2 L317.4,76.03 L317.95,75.86 L318.5,75.69 L319.05,75.5 L319.6,75.31 L320.15,75.1 L320.7,74.89 L321.25,74.67 L321.8,74.43 L322.35,74.18 L322.9,73.92 L323.45,73.65 L324,73.36 L324.55,73.05 L325.1,72.71 L325.65,72.32 L326.2,71.87 L326.75,71.38 L327.3,70.84 L327.85,70.25 L328.4,69.61 L328.95,68.93 L329.5,68.2 L330.05,67.43 L330.6,66.62 L331.15,65.76 L331.7,64.87 L332.25,63.91 L332.8,62.8 L333.35,61.53 L333.9,60.13 L334.45,58.59 L335,56.94 L335.55,55.19 L336.1,53.35 L336.65,51.44 L337.2,49.46 L337.75,47.43 L338.3,45.36 L338.85,43.26 L339.4,41.15 L339.95,38.91 L340.5,36.54 L341.05,34.05 L341.6,31.45 L342.15,28.75 L342.7,25.97 L343.25,23.1 L343.8,20.17 L344.35,17.19 L344.9,14.17 L345.45,11.11 L346,8.04 L346.55,4.95 L347.1,1.87 L347.65,0 L519.25,0 L519.8,21.04 L520.35,72.31 L520.9,102.97 L521.45,126.83 L522,139.5" fill="none" stroke="#3a3a3a" stroke-width="1.15" stroke-linejoin="round" clip-path="url(#cb)"/>
<rect x="302.0" y="5.3" width="220.0" height="148.7" fill="none" stroke="#e81450" stroke-width="1.9"/>
<line x1="302" y1="154" x2="302" y2="157" stroke="#e81450" stroke-width="1.2"/>
<text x="304.4" y="166.1" font-size="8.8" text-anchor="middle" fill="#2a2a2a" stroke="#2a2a2a" stroke-width="0.22" textLength="16" lengthAdjust="spacingAndGlyphs">500</text>
<line x1="357" y1="154" x2="357" y2="157" stroke="#e81450" stroke-width="1.2"/>
<text x="359.4" y="166.1" font-size="8.8" text-anchor="middle" fill="#2a2a2a" stroke="#2a2a2a" stroke-width="0.22" textLength="16" lengthAdjust="spacingAndGlyphs">550</text>
<line x1="412" y1="154" x2="412" y2="157" stroke="#e81450" stroke-width="1.2"/>
<text x="414.4" y="166.1" font-size="8.8" text-anchor="middle" fill="#2a2a2a" stroke="#2a2a2a" stroke-width="0.22" textLength="16" lengthAdjust="spacingAndGlyphs">600</text>
<line x1="467" y1="154" x2="467" y2="157" stroke="#e81450" stroke-width="1.2"/>
<text x="469.4" y="166.1" font-size="8.8" text-anchor="middle" fill="#2a2a2a" stroke="#2a2a2a" stroke-width="0.22" textLength="16" lengthAdjust="spacingAndGlyphs">650</text>
<line x1="522" y1="154" x2="522" y2="157" stroke="#e81450" stroke-width="1.2"/>
<text x="524.4" y="166.1" font-size="8.8" text-anchor="middle" fill="#2a2a2a" stroke="#2a2a2a" stroke-width="0.22" textLength="16" lengthAdjust="spacingAndGlyphs">700</text>
<line x1="329.5" y1="154" x2="329.5" y2="156" stroke="#e81450" stroke-width="1.2"/>
<line x1="384.5" y1="154" x2="384.5" y2="156" stroke="#e81450" stroke-width="1.2"/>
<line x1="439.5" y1="154" x2="439.5" y2="156" stroke="#e81450" stroke-width="1.2"/>
<line x1="494.5" y1="154" x2="494.5" y2="156" stroke="#e81450" stroke-width="1.2"/>
<line x1="522" y1="19.5" x2="525" y2="19.5" stroke="#e81450" stroke-width="1.2"/>
<text x="526.5" y="22.5" font-size="8.6" text-anchor="start" fill="#2a2a2a" stroke="#2a2a2a" stroke-width="0.22" textLength="17.6" lengthAdjust="spacingAndGlyphs">0.04</text>
<line x1="522" y1="49.5" x2="525" y2="49.5" stroke="#e81450" stroke-width="1.2"/>
<text x="526.5" y="52.5" font-size="8.6" text-anchor="start" fill="#2a2a2a" stroke="#2a2a2a" stroke-width="0.22" textLength="17.6" lengthAdjust="spacingAndGlyphs">0.02</text>
<line x1="522" y1="79.5" x2="525" y2="79.5" stroke="#e81450" stroke-width="1.2"/>
<text x="526.5" y="82.5" font-size="8.6" text-anchor="start" fill="#2a2a2a" stroke="#2a2a2a" stroke-width="0.22" textLength="17.6" lengthAdjust="spacingAndGlyphs">0.00</text>
<line x1="522" y1="109.5" x2="525" y2="109.5" stroke="#e81450" stroke-width="1.2"/>
<text x="526.5" y="112.5" font-size="8.6" text-anchor="start" fill="#2a2a2a" stroke="#2a2a2a" stroke-width="0.22" textLength="17.6" lengthAdjust="spacingAndGlyphs">0.02</text>
<line x1="522" y1="139.5" x2="525" y2="139.5" stroke="#e81450" stroke-width="1.2"/>
<text x="526.5" y="142.5" font-size="8.6" text-anchor="start" fill="#2a2a2a" stroke="#2a2a2a" stroke-width="0.22" textLength="17.6" lengthAdjust="spacingAndGlyphs">0.04</text>
<line x1="522" y1="34.5" x2="524" y2="34.5" stroke="#e81450" stroke-width="1.2"/>
<line x1="522" y1="64.5" x2="524" y2="64.5" stroke="#e81450" stroke-width="1.2"/>
<line x1="522" y1="94.5" x2="524" y2="94.5" stroke="#e81450" stroke-width="1.2"/>
<line x1="522" y1="124.5" x2="524" y2="124.5" stroke="#e81450" stroke-width="1.2"/>
<text x="421.5" y="178" font-size="9.8" text-anchor="middle" fill="#2a2a2a" stroke="#2a2a2a" stroke-width="0.22" textLength="78.5" lengthAdjust="spacingAndGlyphs">Wavelength (nm)</text>
<text x="295" y="98" font-size="10.2" text-anchor="middle" fill="#2a2a2a" stroke="#2a2a2a" stroke-width="0.22" textLength="55" lengthAdjust="spacingAndGlyphs" transform="rotate(-90 295 98)">Absorbance</text>
<text x="304" y="15.4" font-size="9.2" text-anchor="start" fill="#2a2a2a" stroke="#2a2a2a" stroke-width="0.22" textLength="14.6" lengthAdjust="spacingAndGlyphs">(b)</text>
<text x="438.6" y="36.2" font-size="8.8" text-anchor="middle" fill="#2a2a2a" stroke="#2a2a2a" stroke-width="0.22" textLength="29.6" lengthAdjust="spacingAndGlyphs">70 min</text>
<text x="431.9" y="67.9" font-size="8.8" text-anchor="middle" fill="#2a2a2a" stroke="#2a2a2a" stroke-width="0.22" textLength="29.6" lengthAdjust="spacingAndGlyphs">80 min</text>
<path d="M39.5,330.84 L40.38,330.81 L41.26,330.78 L42.15,330.75 L43.03,330.72 L43.91,330.68 L44.79,330.65 L45.67,330.61 L46.56,330.56 L47.44,330.52 L48.32,330.47 L49.2,330.42 L50.08,330.37 L50.97,330.31 L51.85,330.25 L52.73,330.19 L53.61,330.12 L54.49,330.05 L55.38,329.97 L56.26,329.9 L57.14,329.81 L58.02,329.73 L58.9,329.63 L59.79,329.54 L60.67,329.43 L61.55,329.33 L62.43,329.22 L63.31,329.1 L64.2,328.97 L65.08,328.84 L65.96,328.71 L66.84,328.57 L67.72,328.42 L68.61,328.26 L69.49,328.1 L70.37,327.93 L71.25,327.76 L72.13,327.57 L73.02,327.38 L73.9,327.18 L74.78,326.98 L75.66,326.76 L76.54,326.54 L77.43,326.3 L78.31,326.06 L79.19,325.81 L80.07,325.55 L80.95,325.28 L81.84,325 L82.72,324.72 L83.6,324.42 L84.48,324.11 L85.36,323.79 L86.25,323.46 L87.13,323.12 L88.01,322.76 L88.89,322.4 L89.77,322.02 L90.66,321.63 L91.54,321.23 L92.42,320.81 L93.3,320.38 L94.18,319.93 L95.07,319.46 L95.95,318.98 L96.83,318.48 L97.71,317.96 L98.59,317.42 L99.48,316.85 L100.36,316.26 L101.24,315.64 L102.12,315 L103,314.32 L103.89,313.61 L104.77,312.87 L105.65,312.09 L106.53,311.27 L107.41,310.41 L108.3,309.5 L109.18,308.55 L110.06,307.56 L110.94,306.51 L111.82,305.41 L112.71,304.27 L113.59,303.07 L114.47,301.83 L115.35,300.53 L116.23,299.19 L117.12,297.81 L118,296.39 L118.88,294.93 L119.76,293.43 L120.64,291.92 L121.53,290.38 L122.41,288.84 L123.29,287.29 L124.17,285.74 L125.05,284.21 L125.94,282.71 L126.82,281.23 L127.7,279.8 L128.58,278.42 L129.46,277.1 L130.35,275.84 L131.23,274.66 L132.11,273.56 L132.99,272.55 L133.87,271.62 L134.76,270.79 L135.64,270.04 L136.52,269.39 L137.4,268.83 L138.28,268.35 L139.17,267.95 L140.05,267.63 L140.93,267.36 L141.81,267.14 L142.69,266.96 L143.58,266.81 L144.46,266.67 L145.34,266.53 L146.22,266.37 L147.1,266.17 L147.99,265.92 L148.87,265.6 L149.75,265.2 L150.63,264.7 L151.51,264.09 L152.4,263.35 L153.28,262.48 L154.16,261.45 L155.04,260.26 L155.92,258.91 L156.81,257.46 L157.69,255.98 L158.57,254.45 L159.45,252.87 L160.33,251.24 L161.22,249.55 L162.1,247.8 L162.98,245.99 L163.86,244.11 L164.74,242.16 L165.63,240.15 L166.51,238.07 L167.39,235.94 L168.27,233.76 L169.15,231.53 L170.04,229.27 L170.92,226.99 L171.8,224.71 L172.68,222.43 L173.56,220.19 L174.45,217.99 L175.33,215.86 L176.21,213.82 L177.09,211.89 L177.97,210.09 L178.86,208.45 L179.74,206.99 L180.62,205.72 L181.5,204.68 L182.38,203.87 L183.27,203.31 L184.15,203.02 L185.03,203.01 L185.91,203.29 L186.79,203.91 L187.68,205.11 L188.56,206.94 L189.44,209.39 L190.32,212.41 L191.2,215.97 L192.09,220.02 L192.97,224.51 L193.85,229.39 L194.73,234.57 L195.61,240.01 L196.5,245.62 L197.38,251.34 L198.26,257.11 L199.14,262.87 L200.02,268.55 L200.91,274.1 L201.79,279.48 L202.67,284.65 L203.55,289.57 L204.43,294.21 L205.32,298.57 L206.2,302.62 L207.08,306.36 L207.96,309.79 L208.84,312.92 L209.73,315.74 L210.61,318.27 L211.49,320.53 L212.37,322.53 L213.25,324.3 L214.14,325.84 L215.02,327.18 L215.9,328.34 L216.78,329.34 L217.66,330.19 L218.55,330.91 L219.43,331.52 L220.31,332.04 L221.19,332.47 L222.07,332.83 L222.96,333.13 L223.84,333.38 L224.72,333.59 L225.6,333.76 L226.48,333.9 L227.37,334.02 L228.25,334.12 L229.13,334.2 L230.01,334.27 L230.89,334.33 L231.78,334.38 L232.66,334.42 L233.54,334.46 L234.42,334.49 L235.3,334.53 L236.19,334.55 L237.07,334.58 L237.95,334.61 L238.83,334.63 L239.71,334.65 L240.6,334.67 L241.48,334.7 L242.36,334.72 L243.24,334.74 L244.12,334.75 L245.01,334.77 L245.89,334.79 L246.77,334.81 L247.65,334.83 L248.53,334.84 L249.42,334.86 L250.3,334.88 L251.18,334.89 L252.06,334.91 L252.94,334.93 L253.83,334.94 L254.71,334.96 L255.59,334.97 L256.47,334.99 L257.35,335 L258.24,335.01 L259.12,335.03 L260,335.04" fill="none" stroke="#6a5ae8" stroke-width="1.4" stroke-linejoin="round" clip-path="url(#cc)"/>
<path d="M39.5,332.01 L40.38,331.99 L41.26,331.97 L42.15,331.94 L43.03,331.92 L43.91,331.89 L44.79,331.86 L45.67,331.83 L46.56,331.79 L47.44,331.76 L48.32,331.72 L49.2,331.68 L50.08,331.64 L50.97,331.59 L51.85,331.54 L52.73,331.49 L53.61,331.44 L54.49,331.38 L55.38,331.32 L56.26,331.26 L57.14,331.2 L58.02,331.13 L58.9,331.05 L59.79,330.98 L60.67,330.9 L61.55,330.81 L62.43,330.72 L63.31,330.63 L64.2,330.53 L65.08,330.43 L65.96,330.32 L66.84,330.21 L67.72,330.09 L68.61,329.97 L69.49,329.84 L70.37,329.71 L71.25,329.57 L72.13,329.42 L73.02,329.27 L73.9,329.11 L74.78,328.95 L75.66,328.78 L76.54,328.6 L77.43,328.41 L78.31,328.22 L79.19,328.02 L80.07,327.82 L80.95,327.6 L81.84,327.38 L82.72,327.15 L83.6,326.92 L84.48,326.67 L85.36,326.42 L86.25,326.16 L87.13,325.88 L88.01,325.6 L88.89,325.32 L89.77,325.02 L90.66,324.71 L91.54,324.39 L92.42,324.06 L93.3,323.71 L94.18,323.36 L95.07,322.99 L95.95,322.61 L96.83,322.21 L97.71,321.8 L98.59,321.37 L99.48,320.92 L100.36,320.45 L101.24,319.96 L102.12,319.45 L103,318.91 L103.89,318.35 L104.77,317.76 L105.65,317.14 L106.53,316.49 L107.41,315.81 L108.3,315.09 L109.18,314.34 L110.06,313.54 L110.94,312.71 L111.82,311.85 L112.71,310.94 L113.59,309.99 L114.47,309 L115.35,307.98 L116.23,306.91 L117.12,305.81 L118,304.69 L118.88,303.53 L119.76,302.34 L120.64,301.14 L121.53,299.93 L122.41,298.7 L123.29,297.47 L124.17,296.25 L125.05,295.03 L125.94,293.84 L126.82,292.67 L127.7,291.53 L128.58,290.44 L129.46,289.39 L130.35,288.39 L131.23,287.46 L132.11,286.58 L132.99,285.78 L133.87,285.04 L134.76,284.38 L135.64,283.79 L136.52,283.28 L137.4,282.83 L138.28,282.45 L139.17,282.14 L140.05,281.88 L140.93,281.66 L141.81,281.49 L142.69,281.35 L143.58,281.23 L144.46,281.12 L145.34,281.01 L146.22,280.88 L147.1,280.72 L147.99,280.52 L148.87,280.27 L149.75,279.95 L150.63,279.56 L151.51,279.07 L152.4,278.49 L153.28,277.79 L154.16,276.98 L155.04,276.03 L155.92,274.96 L156.81,273.81 L157.69,272.64 L158.57,271.42 L159.45,270.17 L160.33,268.88 L161.22,267.54 L162.1,266.15 L162.98,264.71 L163.86,263.22 L164.74,261.68 L165.63,260.08 L166.51,258.44 L167.39,256.74 L168.27,255.01 L169.15,253.25 L170.04,251.45 L170.92,249.65 L171.8,247.84 L172.68,246.03 L173.56,244.25 L174.45,242.51 L175.33,240.82 L176.21,239.2 L177.09,237.67 L177.97,236.25 L178.86,234.94 L179.74,233.78 L180.62,232.78 L181.5,231.95 L182.38,231.31 L183.27,230.87 L184.15,230.64 L185.03,230.63 L185.91,230.85 L186.79,231.34 L187.68,232.3 L188.56,233.75 L189.44,235.68 L190.32,238.08 L191.2,240.9 L192.09,244.12 L192.97,247.68 L193.85,251.55 L194.73,255.66 L195.61,259.97 L196.5,264.42 L197.38,268.96 L198.26,273.54 L199.14,278.1 L200.02,282.61 L200.91,287.01 L201.79,291.28 L202.67,295.37 L203.55,299.28 L204.43,302.96 L205.32,306.42 L206.2,309.63 L207.08,312.6 L207.96,315.32 L208.84,317.8 L209.73,320.03 L210.61,322.04 L211.49,323.84 L212.37,325.42 L213.25,326.82 L214.14,328.05 L215.02,329.11 L215.9,330.03 L216.78,330.82 L217.66,331.49 L218.55,332.07 L219.43,332.55 L220.31,332.96 L221.19,333.31 L222.07,333.59 L222.96,333.83 L223.84,334.03 L224.72,334.19 L225.6,334.33 L226.48,334.44 L227.37,334.53 L228.25,334.61 L229.13,334.68 L230.01,334.73 L230.89,334.78 L231.78,334.82 L232.66,334.85 L233.54,334.88 L234.42,334.91 L235.3,334.93 L236.19,334.96 L237.07,334.98 L237.95,335 L238.83,335.02 L239.71,335.03 L240.6,335.05 L241.48,335.07 L242.36,335.08 L243.24,335.1 L244.12,335.12 L245.01,335.13 L245.89,335.15 L246.77,335.16 L247.65,335.17 L248.53,335.19 L249.42,335.2 L250.3,335.21 L251.18,335.23 L252.06,335.24 L252.94,335.25 L253.83,335.26 L254.71,335.28 L255.59,335.29 L256.47,335.3 L257.35,335.31 L258.24,335.32 L259.12,335.33 L260,335.34" fill="none" stroke="#5a3ae8" stroke-width="1.4" stroke-linejoin="round" clip-path="url(#cc)"/>
<path d="M39.5,330.94 L40.38,330.91 L41.26,330.88 L42.15,330.85 L43.03,330.82 L43.91,330.78 L44.79,330.75 L45.67,330.71 L46.56,330.67 L47.44,330.62 L48.32,330.58 L49.2,330.53 L50.08,330.47 L50.97,330.42 L51.85,330.36 L52.73,330.3 L53.61,330.23 L54.49,330.16 L55.38,330.09 L56.26,330.01 L57.14,329.93 L58.02,329.84 L58.9,329.75 L59.79,329.66 L60.67,329.56 L61.55,329.45 L62.43,329.34 L63.31,329.23 L64.2,329.1 L65.08,328.98 L65.96,328.84 L66.84,328.7 L67.72,328.56 L68.61,328.41 L69.49,328.25 L70.37,328.08 L71.25,327.91 L72.13,327.73 L73.02,327.54 L73.9,327.34 L74.78,327.14 L75.66,326.93 L76.54,326.71 L77.43,326.48 L78.31,326.24 L79.19,326 L80.07,325.74 L80.95,325.48 L81.84,325.2 L82.72,324.92 L83.6,324.62 L84.48,324.32 L85.36,324.01 L86.25,323.68 L87.13,323.35 L88.01,323 L88.89,322.64 L89.77,322.27 L90.66,321.89 L91.54,321.49 L92.42,321.08 L93.3,320.65 L94.18,320.21 L95.07,319.76 L95.95,319.28 L96.83,318.79 L97.71,318.28 L98.59,317.75 L99.48,317.19 L100.36,316.61 L101.24,316 L102.12,315.37 L103,314.71 L103.89,314.01 L104.77,313.28 L105.65,312.51 L106.53,311.71 L107.41,310.86 L108.3,309.97 L109.18,309.04 L110.06,308.05 L110.94,307.03 L111.82,305.95 L112.71,304.82 L113.59,303.65 L114.47,302.43 L115.35,301.15 L116.23,299.84 L117.12,298.48 L118,297.08 L118.88,295.64 L119.76,294.18 L120.64,292.69 L121.53,291.18 L122.41,289.66 L123.29,288.14 L124.17,286.62 L125.05,285.12 L125.94,283.64 L126.82,282.19 L127.7,280.78 L128.58,279.42 L129.46,278.12 L130.35,276.89 L131.23,275.73 L132.11,274.65 L132.99,273.65 L133.87,272.74 L134.76,271.92 L135.64,271.19 L136.52,270.55 L137.4,270 L138.28,269.53 L139.17,269.14 L140.05,268.81 L140.93,268.55 L141.81,268.34 L142.69,268.16 L143.58,268.01 L144.46,267.88 L145.34,267.73 L146.22,267.57 L147.1,267.38 L147.99,267.13 L148.87,266.82 L149.75,266.43 L150.63,265.94 L151.51,265.34 L152.4,264.61 L153.28,263.75 L154.16,262.74 L155.04,261.58 L155.92,260.24 L156.81,258.82 L157.69,257.36 L158.57,255.86 L159.45,254.31 L160.33,252.71 L161.22,251.05 L162.1,249.33 L162.98,247.55 L163.86,245.7 L164.74,243.79 L165.63,241.81 L166.51,239.77 L167.39,237.67 L168.27,235.53 L169.15,233.34 L170.04,231.12 L170.92,228.88 L171.8,226.63 L172.68,224.4 L173.56,222.19 L174.45,220.03 L175.33,217.94 L176.21,215.93 L177.09,214.04 L177.97,212.27 L178.86,210.66 L179.74,209.22 L180.62,207.98 L181.5,206.95 L182.38,206.15 L183.27,205.61 L184.15,205.32 L185.03,205.31 L185.91,205.59 L186.79,206.19 L187.68,207.38 L188.56,209.18 L189.44,211.58 L190.32,214.54 L191.2,218.04 L192.09,222.03 L192.97,226.44 L193.85,231.23 L194.73,236.33 L195.61,241.67 L196.5,247.19 L197.38,252.81 L198.26,258.48 L199.14,264.14 L200.02,269.72 L200.91,275.18 L201.79,280.46 L202.67,285.54 L203.55,290.37 L204.43,294.94 L205.32,299.22 L206.2,303.21 L207.08,306.88 L207.96,310.25 L208.84,313.32 L209.73,316.1 L210.61,318.59 L211.49,320.81 L212.37,322.78 L213.25,324.51 L214.14,326.02 L215.02,327.34 L215.9,328.48 L216.78,329.46 L217.66,330.3 L218.55,331.01 L219.43,331.61 L220.31,332.12 L221.19,332.54 L222.07,332.9 L222.96,333.19 L223.84,333.44 L224.72,333.64 L225.6,333.81 L226.48,333.95 L227.37,334.06 L228.25,334.16 L229.13,334.24 L230.01,334.31 L230.89,334.36 L231.78,334.41 L232.66,334.46 L233.54,334.5 L234.42,334.53 L235.3,334.56 L236.19,334.59 L237.07,334.61 L237.95,334.64 L238.83,334.66 L239.71,334.68 L240.6,334.71 L241.48,334.73 L242.36,334.75 L243.24,334.77 L244.12,334.78 L245.01,334.8 L245.89,334.82 L246.77,334.84 L247.65,334.86 L248.53,334.87 L249.42,334.89 L250.3,334.91 L251.18,334.92 L252.06,334.94 L252.94,334.95 L253.83,334.97 L254.71,334.98 L255.59,335 L256.47,335.01 L257.35,335.03 L258.24,335.04 L259.12,335.05 L260,335.06" fill="none" stroke="#2a2a80" stroke-width="1.4" stroke-linejoin="round" clip-path="url(#cc)"/>
<path d="M39.5,331.37 L40.38,331.35 L41.26,331.32 L42.15,331.29 L43.03,331.26 L43.91,331.23 L44.79,331.2 L45.67,331.16 L46.56,331.12 L47.44,331.08 L48.32,331.04 L49.2,330.99 L50.08,330.94 L50.97,330.89 L51.85,330.84 L52.73,330.78 L53.61,330.72 L54.49,330.66 L55.38,330.59 L56.26,330.52 L57.14,330.44 L58.02,330.36 L58.9,330.28 L59.79,330.19 L60.67,330.1 L61.55,330 L62.43,329.9 L63.31,329.79 L64.2,329.68 L65.08,329.56 L65.96,329.44 L66.84,329.31 L67.72,329.18 L68.61,329.04 L69.49,328.89 L70.37,328.74 L71.25,328.58 L72.13,328.41 L73.02,328.24 L73.9,328.06 L74.78,327.87 L75.66,327.68 L76.54,327.47 L77.43,327.26 L78.31,327.04 L79.19,326.82 L80.07,326.58 L80.95,326.34 L81.84,326.09 L82.72,325.82 L83.6,325.55 L84.48,325.27 L85.36,324.98 L86.25,324.68 L87.13,324.37 L88.01,324.05 L88.89,323.72 L89.77,323.38 L90.66,323.03 L91.54,322.66 L92.42,322.28 L93.3,321.89 L94.18,321.49 L95.07,321.07 L95.95,320.63 L96.83,320.17 L97.71,319.7 L98.59,319.21 L99.48,318.7 L100.36,318.16 L101.24,317.61 L102.12,317.02 L103,316.41 L103.89,315.77 L104.77,315.09 L105.65,314.39 L106.53,313.64 L107.41,312.86 L108.3,312.04 L109.18,311.18 L110.06,310.28 L110.94,309.33 L111.82,308.34 L112.71,307.3 L113.59,306.22 L114.47,305.09 L115.35,303.92 L116.23,302.7 L117.12,301.45 L118,300.16 L118.88,298.84 L119.76,297.48 L120.64,296.11 L121.53,294.72 L122.41,293.32 L123.29,291.92 L124.17,290.52 L125.05,289.13 L125.94,287.77 L126.82,286.43 L127.7,285.13 L128.58,283.88 L129.46,282.68 L130.35,281.55 L131.23,280.48 L132.11,279.48 L132.99,278.56 L133.87,277.72 L134.76,276.97 L135.64,276.29 L136.52,275.7 L137.4,275.19 L138.28,274.76 L139.17,274.4 L140.05,274.1 L140.93,273.86 L141.81,273.66 L142.69,273.5 L143.58,273.37 L144.46,273.24 L145.34,273.11 L146.22,272.96 L147.1,272.78 L147.99,272.56 L148.87,272.27 L149.75,271.91 L150.63,271.45 L151.51,270.9 L152.4,270.23 L153.28,269.44 L154.16,268.51 L155.04,267.43 L155.92,266.2 L156.81,264.89 L157.69,263.55 L158.57,262.16 L159.45,260.74 L160.33,259.26 L161.22,257.73 L162.1,256.14 L162.98,254.5 L163.86,252.8 L164.74,251.03 L165.63,249.21 L166.51,247.33 L167.39,245.4 L168.27,243.42 L169.15,241.4 L170.04,239.35 L170.92,237.29 L171.8,235.22 L172.68,233.16 L173.56,231.12 L174.45,229.13 L175.33,227.2 L176.21,225.35 L177.09,223.61 L177.97,221.98 L178.86,220.49 L179.74,219.17 L180.62,218.02 L181.5,217.07 L182.38,216.34 L183.27,215.84 L184.15,215.57 L185.03,215.57 L185.91,215.82 L186.79,216.38 L187.68,217.47 L188.56,219.13 L189.44,221.34 L190.32,224.08 L191.2,227.3 L192.09,230.97 L192.97,235.05 L193.85,239.46 L194.73,244.16 L195.61,249.08 L196.5,254.17 L197.38,259.35 L198.26,264.58 L199.14,269.79 L200.02,274.94 L200.91,279.97 L201.79,284.84 L202.67,289.52 L203.55,293.98 L204.43,298.19 L205.32,302.14 L206.2,305.81 L207.08,309.2 L207.96,312.31 L208.84,315.13 L209.73,317.69 L210.61,319.99 L211.49,322.03 L212.37,323.85 L213.25,325.44 L214.14,326.84 L215.02,328.06 L215.9,329.11 L216.78,330.01 L217.66,330.78 L218.55,331.44 L219.43,331.99 L220.31,332.46 L221.19,332.85 L222.07,333.18 L222.96,333.45 L223.84,333.68 L224.72,333.86 L225.6,334.02 L226.48,334.15 L227.37,334.25 L228.25,334.34 L229.13,334.42 L230.01,334.48 L230.89,334.53 L231.78,334.58 L232.66,334.62 L233.54,334.65 L234.42,334.68 L235.3,334.71 L236.19,334.74 L237.07,334.76 L237.95,334.78 L238.83,334.81 L239.71,334.83 L240.6,334.85 L241.48,334.86 L242.36,334.88 L243.24,334.9 L244.12,334.92 L245.01,334.94 L245.89,334.95 L246.77,334.97 L247.65,334.98 L248.53,335 L249.42,335.02 L250.3,335.03 L251.18,335.05 L252.06,335.06 L252.94,335.07 L253.83,335.09 L254.71,335.1 L255.59,335.11 L256.47,335.13 L257.35,335.14 L258.24,335.15 L259.12,335.16 L260,335.18" fill="none" stroke="#e8306a" stroke-width="1.4" stroke-linejoin="round" clip-path="url(#cc)"/>
<path d="M39.5,331.3 L40.38,331.28 L41.26,331.25 L42.15,331.22 L43.03,331.19 L43.91,331.16 L44.79,331.12 L45.67,331.09 L46.56,331.05 L47.44,331.01 L48.32,330.96 L49.2,330.92 L50.08,330.87 L50.97,330.82 L51.85,330.76 L52.73,330.7 L53.61,330.64 L54.49,330.57 L55.38,330.51 L56.26,330.43 L57.14,330.36 L58.02,330.28 L58.9,330.19 L59.79,330.1 L60.67,330.01 L61.55,329.91 L62.43,329.81 L63.31,329.7 L64.2,329.59 L65.08,329.47 L65.96,329.34 L66.84,329.21 L67.72,329.08 L68.61,328.94 L69.49,328.79 L70.37,328.63 L71.25,328.47 L72.13,328.3 L73.02,328.13 L73.9,327.94 L74.78,327.75 L75.66,327.55 L76.54,327.35 L77.43,327.13 L78.31,326.91 L79.19,326.68 L80.07,326.44 L80.95,326.2 L81.84,325.94 L82.72,325.68 L83.6,325.4 L84.48,325.12 L85.36,324.82 L86.25,324.52 L87.13,324.21 L88.01,323.88 L88.89,323.55 L89.77,323.2 L90.66,322.84 L91.54,322.47 L92.42,322.09 L93.3,321.69 L94.18,321.28 L95.07,320.85 L95.95,320.41 L96.83,319.95 L97.71,319.47 L98.59,318.97 L99.48,318.45 L100.36,317.91 L101.24,317.34 L102.12,316.75 L103,316.13 L103.89,315.48 L104.77,314.8 L105.65,314.08 L106.53,313.33 L107.41,312.54 L108.3,311.7 L109.18,310.83 L110.06,309.91 L110.94,308.95 L111.82,307.95 L112.71,306.9 L113.59,305.8 L114.47,304.65 L115.35,303.47 L116.23,302.23 L117.12,300.96 L118,299.66 L118.88,298.31 L119.76,296.94 L120.64,295.55 L121.53,294.14 L122.41,292.72 L123.29,291.3 L124.17,289.88 L125.05,288.48 L125.94,287.09 L126.82,285.74 L127.7,284.42 L128.58,283.15 L129.46,281.94 L130.35,280.79 L131.23,279.7 L132.11,278.69 L132.99,277.76 L133.87,276.91 L134.76,276.14 L135.64,275.46 L136.52,274.86 L137.4,274.35 L138.28,273.91 L139.17,273.54 L140.05,273.24 L140.93,272.99 L141.81,272.79 L142.69,272.63 L143.58,272.49 L144.46,272.36 L145.34,272.23 L146.22,272.08 L147.1,271.9 L147.99,271.67 L148.87,271.38 L149.75,271.01 L150.63,270.55 L151.51,269.99 L152.4,269.32 L153.28,268.51 L154.16,267.57 L155.04,266.47 L155.92,265.23 L156.81,263.9 L157.69,262.54 L158.57,261.14 L159.45,259.69 L160.33,258.19 L161.22,256.64 L162.1,255.03 L162.98,253.37 L163.86,251.64 L164.74,249.85 L165.63,248 L166.51,246.09 L167.39,244.14 L168.27,242.13 L169.15,240.08 L170.04,238.01 L170.92,235.92 L171.8,233.82 L172.68,231.73 L173.56,229.67 L174.45,227.65 L175.33,225.69 L176.21,223.82 L177.09,222.04 L177.97,220.39 L178.86,218.89 L179.74,217.54 L180.62,216.38 L181.5,215.42 L182.38,214.68 L183.27,214.17 L184.15,213.9 L185.03,213.89 L185.91,214.15 L186.79,214.71 L187.68,215.82 L188.56,217.5 L189.44,219.75 L190.32,222.52 L191.2,225.79 L192.09,229.51 L192.97,233.64 L193.85,238.12 L194.73,242.88 L195.61,247.87 L196.5,253.03 L197.38,258.29 L198.26,263.58 L199.14,268.87 L200.02,274.09 L200.91,279.19 L201.79,284.13 L202.67,288.87 L203.55,293.39 L204.43,297.66 L205.32,301.66 L206.2,305.38 L207.08,308.82 L207.96,311.97 L208.84,314.84 L209.73,317.43 L210.61,319.76 L211.49,321.83 L212.37,323.67 L213.25,325.29 L214.14,326.71 L215.02,327.94 L215.9,329.01 L216.78,329.92 L217.66,330.7 L218.55,331.37 L219.43,331.93 L220.31,332.4 L221.19,332.8 L222.07,333.13 L222.96,333.41 L223.84,333.64 L224.72,333.83 L225.6,333.98 L226.48,334.11 L227.37,334.22 L228.25,334.31 L229.13,334.39 L230.01,334.45 L230.89,334.5 L231.78,334.55 L232.66,334.59 L233.54,334.63 L234.42,334.66 L235.3,334.69 L236.19,334.71 L237.07,334.74 L237.95,334.76 L238.83,334.78 L239.71,334.8 L240.6,334.82 L241.48,334.84 L242.36,334.86 L243.24,334.88 L244.12,334.9 L245.01,334.91 L245.89,334.93 L246.77,334.95 L247.65,334.96 L248.53,334.98 L249.42,335 L250.3,335.01 L251.18,335.03 L252.06,335.04 L252.94,335.05 L253.83,335.07 L254.71,335.08 L255.59,335.1 L256.47,335.11 L257.35,335.12 L258.24,335.13 L259.12,335.15 L260,335.16" fill="none" stroke="#e02a9a" stroke-width="1.4" stroke-linejoin="round" clip-path="url(#cc)"/>
<path d="M39.5,331.73 L40.38,331.71 L41.26,331.68 L42.15,331.65 L43.03,331.63 L43.91,331.6 L44.79,331.56 L45.67,331.53 L46.56,331.49 L47.44,331.46 L48.32,331.42 L49.2,331.37 L50.08,331.33 L50.97,331.28 L51.85,331.23 L52.73,331.18 L53.61,331.12 L54.49,331.06 L55.38,331 L56.26,330.93 L57.14,330.86 L58.02,330.79 L58.9,330.71 L59.79,330.63 L60.67,330.54 L61.55,330.45 L62.43,330.36 L63.31,330.26 L64.2,330.15 L65.08,330.04 L65.96,329.93 L66.84,329.81 L67.72,329.69 L68.61,329.56 L69.49,329.42 L70.37,329.28 L71.25,329.13 L72.13,328.97 L73.02,328.81 L73.9,328.64 L74.78,328.47 L75.66,328.29 L76.54,328.1 L77.43,327.9 L78.31,327.7 L79.19,327.49 L80.07,327.27 L80.95,327.04 L81.84,326.81 L82.72,326.56 L83.6,326.31 L84.48,326.05 L85.36,325.78 L86.25,325.5 L87.13,325.21 L88.01,324.92 L88.89,324.61 L89.77,324.29 L90.66,323.96 L91.54,323.62 L92.42,323.27 L93.3,322.9 L94.18,322.53 L95.07,322.13 L95.95,321.73 L96.83,321.3 L97.71,320.87 L98.59,320.41 L99.48,319.93 L100.36,319.43 L101.24,318.91 L102.12,318.37 L103,317.8 L103.89,317.2 L104.77,316.57 L105.65,315.92 L106.53,315.23 L107.41,314.5 L108.3,313.74 L109.18,312.93 L110.06,312.09 L110.94,311.21 L111.82,310.29 L112.71,309.32 L113.59,308.31 L114.47,307.26 L115.35,306.17 L116.23,305.04 L117.12,303.87 L118,302.67 L118.88,301.44 L119.76,300.18 L120.64,298.91 L121.53,297.61 L122.41,296.31 L123.29,295 L124.17,293.7 L125.05,292.41 L125.94,291.14 L126.82,289.9 L127.7,288.69 L128.58,287.52 L129.46,286.41 L130.35,285.35 L131.23,284.35 L132.11,283.43 L132.99,282.57 L133.87,281.79 L134.76,281.09 L135.64,280.46 L136.52,279.91 L137.4,279.44 L138.28,279.03 L139.17,278.7 L140.05,278.42 L140.93,278.2 L141.81,278.01 L142.69,277.86 L143.58,277.74 L144.46,277.62 L145.34,277.5 L146.22,277.36 L147.1,277.19 L147.99,276.98 L148.87,276.71 L149.75,276.38 L150.63,275.96 L151.51,275.44 L152.4,274.82 L153.28,274.08 L154.16,273.21 L155.04,272.21 L155.92,271.07 L156.81,269.85 L157.69,268.6 L158.57,267.31 L159.45,265.98 L160.33,264.6 L161.22,263.18 L162.1,261.71 L162.98,260.17 L163.86,258.59 L164.74,256.95 L165.63,255.25 L166.51,253.5 L167.39,251.7 L168.27,249.86 L169.15,247.98 L170.04,246.08 L170.92,244.15 L171.8,242.23 L172.68,240.31 L173.56,238.42 L174.45,236.56 L175.33,234.77 L176.21,233.05 L177.09,231.42 L177.97,229.91 L178.86,228.52 L179.74,227.29 L180.62,226.22 L181.5,225.34 L182.38,224.66 L183.27,224.19 L184.15,223.94 L185.03,223.93 L185.91,224.17 L186.79,224.69 L187.68,225.71 L188.56,227.25 L189.44,229.31 L190.32,231.86 L191.2,234.86 L192.09,238.28 L192.97,242.07 L193.85,246.18 L194.73,250.55 L195.61,255.13 L196.5,259.86 L197.38,264.69 L198.26,269.56 L199.14,274.41 L200.02,279.2 L200.91,283.88 L201.79,288.42 L202.67,292.77 L203.55,296.92 L204.43,300.84 L205.32,304.51 L206.2,307.93 L207.08,311.09 L207.96,313.98 L208.84,316.61 L209.73,318.99 L210.61,321.13 L211.49,323.03 L212.37,324.72 L213.25,326.21 L214.14,327.51 L215.02,328.64 L215.9,329.62 L216.78,330.46 L217.66,331.18 L218.55,331.79 L219.43,332.3 L220.31,332.74 L221.19,333.1 L222.07,333.41 L222.96,333.66 L223.84,333.87 L224.72,334.05 L225.6,334.19 L226.48,334.31 L227.37,334.41 L228.25,334.49 L229.13,334.56 L230.01,334.62 L230.89,334.67 L231.78,334.71 L232.66,334.75 L233.54,334.78 L234.42,334.81 L235.3,334.84 L236.19,334.86 L237.07,334.88 L237.95,334.9 L238.83,334.92 L239.71,334.94 L240.6,334.96 L241.48,334.98 L242.36,335 L243.24,335.01 L244.12,335.03 L245.01,335.04 L245.89,335.06 L246.77,335.07 L247.65,335.09 L248.53,335.1 L249.42,335.12 L250.3,335.13 L251.18,335.15 L252.06,335.16 L252.94,335.17 L253.83,335.19 L254.71,335.2 L255.59,335.21 L256.47,335.22 L257.35,335.23 L258.24,335.25 L259.12,335.26 L260,335.27" fill="none" stroke="#e080e0" stroke-width="1.4" stroke-linejoin="round" clip-path="url(#cc)"/>
<path d="M39.5,331.89 L40.38,331.87 L41.26,331.84 L42.15,331.82 L43.03,331.79 L43.91,331.76 L44.79,331.73 L45.67,331.7 L46.56,331.66 L47.44,331.63 L48.32,331.59 L49.2,331.55 L50.08,331.5 L50.97,331.46 L51.85,331.41 L52.73,331.35 L53.61,331.3 L54.49,331.24 L55.38,331.18 L56.26,331.12 L57.14,331.05 L58.02,330.98 L58.9,330.9 L59.79,330.82 L60.67,330.74 L61.55,330.65 L62.43,330.56 L63.31,330.47 L64.2,330.37 L65.08,330.26 L65.96,330.15 L66.84,330.03 L67.72,329.91 L68.61,329.79 L69.49,329.66 L70.37,329.52 L71.25,329.37 L72.13,329.22 L73.02,329.07 L73.9,328.91 L74.78,328.74 L75.66,328.56 L76.54,328.38 L77.43,328.19 L78.31,327.99 L79.19,327.79 L80.07,327.58 L80.95,327.36 L81.84,327.13 L82.72,326.89 L83.6,326.65 L84.48,326.4 L85.36,326.14 L86.25,325.87 L87.13,325.59 L88.01,325.3 L88.89,325.01 L89.77,324.7 L90.66,324.38 L91.54,324.05 L92.42,323.71 L93.3,323.36 L94.18,322.99 L95.07,322.61 L95.95,322.22 L96.83,321.81 L97.71,321.39 L98.59,320.95 L99.48,320.49 L100.36,320 L101.24,319.5 L102.12,318.98 L103,318.42 L103.89,317.85 L104.77,317.24 L105.65,316.61 L106.53,315.94 L107.41,315.23 L108.3,314.5 L109.18,313.72 L110.06,312.91 L110.94,312.06 L111.82,311.16 L112.71,310.23 L113.59,309.26 L114.47,308.24 L115.35,307.19 L116.23,306.09 L117.12,304.97 L118,303.81 L118.88,302.62 L119.76,301.4 L120.64,300.16 L121.53,298.91 L122.41,297.65 L123.29,296.39 L124.17,295.13 L125.05,293.88 L125.94,292.66 L126.82,291.46 L127.7,290.29 L128.58,289.16 L129.46,288.08 L130.35,287.06 L131.23,286.1 L132.11,285.2 L132.99,284.37 L133.87,283.62 L134.76,282.94 L135.64,282.34 L136.52,281.8 L137.4,281.35 L138.28,280.96 L139.17,280.63 L140.05,280.36 L140.93,280.15 L141.81,279.97 L142.69,279.83 L143.58,279.7 L144.46,279.59 L145.34,279.47 L146.22,279.34 L147.1,279.18 L147.99,278.97 L148.87,278.71 L149.75,278.39 L150.63,277.98 L151.51,277.48 L152.4,276.88 L153.28,276.17 L154.16,275.33 L155.04,274.36 L155.92,273.26 L156.81,272.08 L157.69,270.87 L158.57,269.62 L159.45,268.34 L160.33,267.01 L161.22,265.63 L162.1,264.21 L162.98,262.73 L163.86,261.2 L164.74,259.61 L165.63,257.97 L166.51,256.28 L167.39,254.54 L168.27,252.76 L169.15,250.94 L170.04,249.1 L170.92,247.24 L171.8,245.38 L172.68,243.53 L173.56,241.7 L174.45,239.91 L175.33,238.17 L176.21,236.51 L177.09,234.94 L177.97,233.47 L178.86,232.13 L179.74,230.94 L180.62,229.91 L181.5,229.06 L182.38,228.4 L183.27,227.94 L184.15,227.71 L185.03,227.7 L185.91,227.93 L186.79,228.43 L187.68,229.41 L188.56,230.91 L189.44,232.9 L190.32,235.36 L191.2,238.26 L192.09,241.56 L192.97,245.23 L193.85,249.2 L194.73,253.42 L195.61,257.85 L196.5,262.43 L197.38,267.09 L198.26,271.8 L199.14,276.49 L200.02,281.12 L200.91,285.64 L201.79,290.03 L202.67,294.24 L203.55,298.25 L204.43,302.03 L205.32,305.59 L206.2,308.89 L207.08,311.94 L207.96,314.73 L208.84,317.28 L209.73,319.58 L210.61,321.64 L211.49,323.49 L212.37,325.12 L213.25,326.55 L214.14,327.81 L215.02,328.9 L215.9,329.85 L216.78,330.66 L217.66,331.36 L218.55,331.95 L219.43,332.45 L220.31,332.87 L221.19,333.22 L222.07,333.51 L222.96,333.76 L223.84,333.96 L224.72,334.13 L225.6,334.27 L226.48,334.38 L227.37,334.48 L228.25,334.56 L229.13,334.62 L230.01,334.68 L230.89,334.73 L231.78,334.77 L232.66,334.81 L233.54,334.84 L234.42,334.87 L235.3,334.89 L236.19,334.91 L237.07,334.94 L237.95,334.96 L238.83,334.98 L239.71,334.99 L240.6,335.01 L241.48,335.03 L242.36,335.05 L243.24,335.06 L244.12,335.08 L245.01,335.09 L245.89,335.11 L246.77,335.12 L247.65,335.14 L248.53,335.15 L249.42,335.16 L250.3,335.18 L251.18,335.19 L252.06,335.2 L252.94,335.22 L253.83,335.23 L254.71,335.24 L255.59,335.25 L256.47,335.27 L257.35,335.28 L258.24,335.29 L259.12,335.3 L260,335.31" fill="none" stroke="#1a8a4a" stroke-width="1.4" stroke-linejoin="round" clip-path="url(#cc)"/>
<path d="M39.5,331.97 L40.38,331.95 L41.26,331.92 L42.15,331.9 L43.03,331.87 L43.91,331.84 L44.79,331.81 L45.67,331.78 L46.56,331.75 L47.44,331.71 L48.32,331.67 L49.2,331.63 L50.08,331.59 L50.97,331.54 L51.85,331.49 L52.73,331.44 L53.61,331.39 L54.49,331.33 L55.38,331.27 L56.26,331.21 L57.14,331.14 L58.02,331.07 L58.9,331 L59.79,330.92 L60.67,330.84 L61.55,330.76 L62.43,330.67 L63.31,330.57 L64.2,330.47 L65.08,330.37 L65.96,330.26 L66.84,330.15 L67.72,330.03 L68.61,329.9 L69.49,329.77 L70.37,329.64 L71.25,329.5 L72.13,329.35 L73.02,329.2 L73.9,329.04 L74.78,328.87 L75.66,328.7 L76.54,328.52 L77.43,328.33 L78.31,328.14 L79.19,327.94 L80.07,327.73 L80.95,327.52 L81.84,327.29 L82.72,327.06 L83.6,326.82 L84.48,326.57 L85.36,326.32 L86.25,326.05 L87.13,325.78 L88.01,325.5 L88.89,325.2 L89.77,324.9 L90.66,324.59 L91.54,324.27 L92.42,323.93 L93.3,323.59 L94.18,323.23 L95.07,322.85 L95.95,322.47 L96.83,322.07 L97.71,321.65 L98.59,321.22 L99.48,320.76 L100.36,320.29 L101.24,319.8 L102.12,319.28 L103,318.74 L103.89,318.17 L104.77,317.57 L105.65,316.95 L106.53,316.29 L107.41,315.6 L108.3,314.88 L109.18,314.12 L110.06,313.32 L110.94,312.48 L111.82,311.6 L112.71,310.68 L113.59,309.73 L114.47,308.73 L115.35,307.69 L116.23,306.62 L117.12,305.51 L118,304.37 L118.88,303.2 L119.76,302.01 L120.64,300.79 L121.53,299.56 L122.41,298.33 L123.29,297.08 L124.17,295.85 L125.05,294.62 L125.94,293.42 L126.82,292.24 L127.7,291.09 L128.58,289.98 L129.46,288.92 L130.35,287.92 L131.23,286.97 L132.11,286.09 L132.99,285.28 L133.87,284.54 L134.76,283.87 L135.64,283.27 L136.52,282.75 L137.4,282.3 L138.28,281.92 L139.17,281.6 L140.05,281.34 L140.93,281.12 L141.81,280.95 L142.69,280.81 L143.58,280.68 L144.46,280.57 L145.34,280.46 L146.22,280.33 L147.1,280.17 L147.99,279.97 L148.87,279.71 L149.75,279.39 L150.63,278.99 L151.51,278.51 L152.4,277.91 L153.28,277.21 L154.16,276.39 L155.04,275.44 L155.92,274.35 L156.81,273.19 L157.69,272 L158.57,270.78 L159.45,269.52 L160.33,268.21 L161.22,266.86 L162.1,265.46 L162.98,264.01 L163.86,262.5 L164.74,260.94 L165.63,259.33 L166.51,257.67 L167.39,255.96 L168.27,254.21 L169.15,252.42 L170.04,250.61 L170.92,248.79 L171.8,246.96 L172.68,245.14 L173.56,243.34 L174.45,241.58 L175.33,239.87 L176.21,238.24 L177.09,236.69 L177.97,235.25 L178.86,233.94 L179.74,232.77 L180.62,231.76 L181.5,230.92 L182.38,230.27 L183.27,229.82 L184.15,229.59 L185.03,229.58 L185.91,229.81 L186.79,230.3 L187.68,231.27 L188.56,232.73 L189.44,234.69 L190.32,237.11 L191.2,239.96 L192.09,243.21 L192.97,246.81 L193.85,250.71 L194.73,254.86 L195.61,259.21 L196.5,263.71 L197.38,268.3 L198.26,272.92 L199.14,277.53 L200.02,282.07 L200.91,286.52 L201.79,290.83 L202.67,294.97 L203.55,298.91 L204.43,302.63 L205.32,306.12 L206.2,309.37 L207.08,312.36 L207.96,315.11 L208.84,317.61 L209.73,319.87 L210.61,321.9 L211.49,323.71 L212.37,325.31 L213.25,326.73 L214.14,327.96 L215.02,329.04 L215.9,329.96 L216.78,330.76 L217.66,331.44 L218.55,332.02 L219.43,332.52 L220.31,332.93 L221.19,333.27 L222.07,333.56 L222.96,333.8 L223.84,334 L224.72,334.17 L225.6,334.31 L226.48,334.42 L227.37,334.51 L228.25,334.59 L229.13,334.66 L230.01,334.71 L230.89,334.76 L231.78,334.8 L232.66,334.84 L233.54,334.87 L234.42,334.89 L235.3,334.92 L236.19,334.94 L237.07,334.96 L237.95,334.98 L238.83,335 L239.71,335.02 L240.6,335.04 L241.48,335.05 L242.36,335.07 L243.24,335.09 L244.12,335.1 L245.01,335.12 L245.89,335.13 L246.77,335.15 L247.65,335.16 L248.53,335.17 L249.42,335.19 L250.3,335.2 L251.18,335.21 L252.06,335.23 L252.94,335.24 L253.83,335.25 L254.71,335.26 L255.59,335.28 L256.47,335.29 L257.35,335.3 L258.24,335.31 L259.12,335.32 L260,335.33" fill="none" stroke="#3535a0" stroke-width="1.4" stroke-linejoin="round" clip-path="url(#cc)"/>
<rect x="39.5" y="187.5" width="220.5" height="148.39999999999998" fill="none" stroke="#3a3a3a" stroke-width="1.1"/>
<line x1="36" y1="336.1" x2="39.5" y2="336.1" stroke="#3a3a3a" stroke-width="1.0"/>
<text x="34" y="339.4" font-size="9.4" text-anchor="end" fill="#2a2a2a" stroke="#2a2a2a" stroke-width="0.22" textLength="15.4" lengthAdjust="spacingAndGlyphs">0.0</text>
<line x1="36" y1="314.87" x2="39.5" y2="314.87" stroke="#3a3a3a" stroke-width="1.0"/>
<text x="34" y="318.17" font-size="9.4" text-anchor="end" fill="#2a2a2a" stroke="#2a2a2a" stroke-width="0.22" textLength="15.4" lengthAdjust="spacingAndGlyphs">0.1</text>
<line x1="36" y1="293.64" x2="39.5" y2="293.64" stroke="#3a3a3a" stroke-width="1.0"/>
<text x="34" y="296.94" font-size="9.4" text-anchor="end" fill="#2a2a2a" stroke="#2a2a2a" stroke-width="0.22" textLength="15.4" lengthAdjust="spacingAndGlyphs">0.2</text>
<line x1="36" y1="272.41" x2="39.5" y2="272.41" stroke="#3a3a3a" stroke-width="1.0"/>
<text x="34" y="275.71" font-size="9.4" text-anchor="end" fill="#2a2a2a" stroke="#2a2a2a" stroke-width="0.22" textLength="15.4" lengthAdjust="spacingAndGlyphs">0.3</text>
<line x1="36" y1="251.18" x2="39.5" y2="251.18" stroke="#3a3a3a" stroke-width="1.0"/>
<text x="34" y="254.48" font-size="9.4" text-anchor="end" fill="#2a2a2a" stroke="#2a2a2a" stroke-width="0.22" textLength="15.4" lengthAdjust="spacingAndGlyphs">0.4</text>
<line x1="36" y1="229.95" x2="39.5" y2="229.95" stroke="#3a3a3a" stroke-width="1.0"/>
<text x="34" y="233.25" font-size="9.4" text-anchor="end" fill="#2a2a2a" stroke="#2a2a2a" stroke-width="0.22" textLength="15.4" lengthAdjust="spacingAndGlyphs">0.5</text>
<line x1="36" y1="208.72" x2="39.5" y2="208.72" stroke="#3a3a3a" stroke-width="1.0"/>
<text x="34" y="212.02" font-size="9.4" text-anchor="end" fill="#2a2a2a" stroke="#2a2a2a" stroke-width="0.22" textLength="15.4" lengthAdjust="spacingAndGlyphs">0.6</text>
<line x1="36" y1="187.49" x2="39.5" y2="187.49" stroke="#3a3a3a" stroke-width="1.0"/>
<text x="34" y="190.79" font-size="9.4" text-anchor="end" fill="#2a2a2a" stroke="#2a2a2a" stroke-width="0.22" textLength="15.4" lengthAdjust="spacingAndGlyphs">0.7</text>
<line x1="38" y1="325.49" x2="39.5" y2="325.49" stroke="#3a3a3a" stroke-width="1.0"/>
<line x1="38" y1="304.25" x2="39.5" y2="304.25" stroke="#3a3a3a" stroke-width="1.0"/>
<line x1="38" y1="283.03" x2="39.5" y2="283.03" stroke="#3a3a3a" stroke-width="1.0"/>
<line x1="38" y1="261.8" x2="39.5" y2="261.8" stroke="#3a3a3a" stroke-width="1.0"/>
<line x1="38" y1="240.56" x2="39.5" y2="240.56" stroke="#3a3a3a" stroke-width="1.0"/>
<line x1="38" y1="219.34" x2="39.5" y2="219.34" stroke="#3a3a3a" stroke-width="1.0"/>
<line x1="38" y1="198.1" x2="39.5" y2="198.1" stroke="#3a3a3a" stroke-width="1.0"/>
<line x1="39.5" y1="335.9" x2="39.5" y2="338.9" stroke="#3a3a3a" stroke-width="1.0"/>
<text x="42.0" y="349.1" font-size="9.4" text-anchor="middle" fill="#2a2a2a" stroke="#2a2a2a" stroke-width="0.22" textLength="18" lengthAdjust="spacingAndGlyphs">500</text>
<line x1="83.6" y1="335.9" x2="83.6" y2="338.9" stroke="#3a3a3a" stroke-width="1.0"/>
<text x="86.1" y="349.1" font-size="9.4" text-anchor="middle" fill="#2a2a2a" stroke="#2a2a2a" stroke-width="0.22" textLength="18" lengthAdjust="spacingAndGlyphs">550</text>
<line x1="127.7" y1="335.9" x2="127.7" y2="338.9" stroke="#3a3a3a" stroke-width="1.0"/>
<text x="130.2" y="349.1" font-size="9.4" text-anchor="middle" fill="#2a2a2a" stroke="#2a2a2a" stroke-width="0.22" textLength="18" lengthAdjust="spacingAndGlyphs">600</text>
<line x1="171.8" y1="335.9" x2="171.8" y2="338.9" stroke="#3a3a3a" stroke-width="1.0"/>
<text x="174.3" y="349.1" font-size="9.4" text-anchor="middle" fill="#2a2a2a" stroke="#2a2a2a" stroke-width="0.22" textLength="18" lengthAdjust="spacingAndGlyphs">650</text>
<line x1="215.9" y1="335.9" x2="215.9" y2="338.9" stroke="#3a3a3a" stroke-width="1.0"/>
<text x="218.4" y="349.1" font-size="9.4" text-anchor="middle" fill="#2a2a2a" stroke="#2a2a2a" stroke-width="0.22" textLength="18" lengthAdjust="spacingAndGlyphs">700</text>
<line x1="260" y1="335.9" x2="260" y2="338.9" stroke="#3a3a3a" stroke-width="1.0"/>
<text x="262.5" y="349.1" font-size="9.4" text-anchor="middle" fill="#2a2a2a" stroke="#2a2a2a" stroke-width="0.22" textLength="18" lengthAdjust="spacingAndGlyphs">750</text>
<line x1="61.55" y1="335.9" x2="61.55" y2="337.7" stroke="#3a3a3a" stroke-width="1.0"/>
<line x1="105.65" y1="335.9" x2="105.65" y2="337.7" stroke="#3a3a3a" stroke-width="1.0"/>
<line x1="149.75" y1="335.9" x2="149.75" y2="337.7" stroke="#3a3a3a" stroke-width="1.0"/>
<line x1="193.85" y1="335.9" x2="193.85" y2="337.7" stroke="#3a3a3a" stroke-width="1.0"/>
<line x1="237.95" y1="335.9" x2="237.95" y2="337.7" stroke="#3a3a3a" stroke-width="1.0"/>
<text x="147.5" y="362" font-size="10.5" text-anchor="middle" fill="#2a2a2a" stroke="#2a2a2a" stroke-width="0.22" textLength="86" lengthAdjust="spacingAndGlyphs">Wavelength (nm)</text>
<text x="14.6" y="261.5" font-size="10.5" text-anchor="middle" fill="#2a2a2a" stroke="#2a2a2a" stroke-width="0.22" textLength="54.5" lengthAdjust="spacingAndGlyphs" transform="rotate(-90 14.6 261.5)">Absorbance</text>
<text x="42" y="199" font-size="9.6" text-anchor="start" fill="#2a2a2a" stroke="#2a2a2a" stroke-width="0.22" textLength="14.2" lengthAdjust="spacingAndGlyphs">(c)</text>
<text x="257.8" y="197.8" font-size="8" text-anchor="end" fill="#3a3a3a" stroke="#3a3a3a" stroke-width="0" textLength="109.5" lengthAdjust="spacingAndGlyphs">In the absence of ZnO-NPs</text>
<text x="111.4" y="199.92" font-size="9.2" text-anchor="end" fill="#2a2a2a" stroke="#2a2a2a" stroke-width="0.22" textLength="26.4" lengthAdjust="spacingAndGlyphs">0 min</text>
<text x="111.4" y="210.46" font-size="9.2" text-anchor="end" fill="#2a2a2a" stroke="#2a2a2a" stroke-width="0.22" textLength="26.4" lengthAdjust="spacingAndGlyphs">5 min</text>
<text x="111.4" y="221.0" font-size="9.2" text-anchor="end" fill="#2a2a2a" stroke="#2a2a2a" stroke-width="0.22" textLength="32.4" lengthAdjust="spacingAndGlyphs">10 min</text>
<text x="111.4" y="231.54" font-size="9.2" text-anchor="end" fill="#2a2a2a" stroke="#2a2a2a" stroke-width="0.22" textLength="32.4" lengthAdjust="spacingAndGlyphs">20 min</text>
<text x="111.4" y="242.08" font-size="9.2" text-anchor="end" fill="#2a2a2a" stroke="#2a2a2a" stroke-width="0.22" textLength="32.4" lengthAdjust="spacingAndGlyphs">30 min</text>
<text x="111.4" y="252.62" font-size="9.2" text-anchor="end" fill="#2a2a2a" stroke="#2a2a2a" stroke-width="0.22" textLength="32.4" lengthAdjust="spacingAndGlyphs">40 min</text>
<text x="111.4" y="263.16" font-size="9.2" text-anchor="end" fill="#2a2a2a" stroke="#2a2a2a" stroke-width="0.22" textLength="32.4" lengthAdjust="spacingAndGlyphs">70 min</text>
<text x="111.4" y="273.7" font-size="9.2" text-anchor="end" fill="#2a2a2a" stroke="#2a2a2a" stroke-width="0.22" textLength="32.4" lengthAdjust="spacingAndGlyphs">80 min</text>
<line x1="70.6" y1="194" x2="70.6" y2="268" stroke="#555" stroke-width="1.1"/>
<path d="M67.2,267.2 L74,267.2 L70.6,273.4 Z" fill="#111"/>
<line x1="305.5" y1="261.15" x2="370.86" y2="261.15" stroke="#222" stroke-width="1.1" stroke-dasharray="2.5,2.6"/>
<line x1="370.86" y1="265.15" x2="370.86" y2="336.2" stroke="#222" stroke-width="1.1" stroke-dasharray="2,8.85"/>
<line x1="370.86" y1="270.55" x2="370.86" y2="336.2" stroke="#e81450" stroke-width="1.1" stroke-dasharray="2,8.85"/>
<line x1="304" y1="313.73" x2="370.86" y2="313.73" stroke="#e81450" stroke-width="1" stroke-dasharray="2.6,2.2"/>
<polyline points="326.7,323.5 337.74,321.87 348.78,313.36 370.86,312.73 392.94,303.97 415.02,300.59 481.26,299.96 503.34,299.59" fill="none" stroke="#e8306a" stroke-width="1.1"/>
<circle cx="326.7" cy="323.5" r="2.6" fill="#f00a3c"/>
<circle cx="337.74" cy="321.87" r="2.6" fill="#f00a3c"/>
<circle cx="348.78" cy="313.36" r="2.6" fill="#f00a3c"/>
<circle cx="370.86" cy="312.73" r="2.6" fill="#f00a3c"/>
<circle cx="392.94" cy="303.97" r="2.6" fill="#f00a3c"/>
<circle cx="415.02" cy="300.59" r="2.6" fill="#f00a3c"/>
<circle cx="481.26" cy="299.96" r="2.6" fill="#f00a3c"/>
<circle cx="503.34" cy="299.59" r="2.6" fill="#f00a3c"/>
<polyline points="326.7,323.5 337.74,309.98 348.78,280.31 370.86,261.15 392.94,237.99 415.02,222.09 481.26,200.18 503.34,198.68" fill="none" stroke="#222" stroke-width="1"/>
<rect x="324.4" y="321.2" width="4.6" height="4.6" fill="#111"/>
<rect x="335.44" y="307.68" width="4.6" height="4.6" fill="#111"/>
<rect x="346.48" y="278.01" width="4.6" height="4.6" fill="#111"/>
<rect x="368.56" y="258.85" width="4.6" height="4.6" fill="#111"/>
<rect x="390.64" y="235.69" width="4.6" height="4.6" fill="#111"/>
<rect x="412.72" y="219.79" width="4.6" height="4.6" fill="#111"/>
<rect x="478.96" y="197.88" width="4.6" height="4.6" fill="#111"/>
<rect x="501.04" y="196.38" width="4.6" height="4.6" fill="#111"/>
<rect x="324.3" y="321.2" width="4.8" height="4.6" rx="0.8" fill="#f00a3c"/>
<rect x="304.0" y="185.8" width="221.0" height="150.39999999999998" fill="none" stroke="#3a3a3a" stroke-width="1.1"/>
<line x1="300.5" y1="323.5" x2="304" y2="323.5" stroke="#3a3a3a" stroke-width="1.0"/>
<text x="298.8" y="326.7" font-size="9.2" text-anchor="end" fill="#2a2a2a" stroke="#2a2a2a" stroke-width="0.22" textLength="6" lengthAdjust="spacingAndGlyphs">0</text>
<line x1="300.5" y1="298.46" x2="304" y2="298.46" stroke="#3a3a3a" stroke-width="1.0"/>
<text x="298.8" y="301.66" font-size="9.2" text-anchor="end" fill="#2a2a2a" stroke="#2a2a2a" stroke-width="0.22" textLength="11.5" lengthAdjust="spacingAndGlyphs">20</text>
<line x1="300.5" y1="273.42" x2="304" y2="273.42" stroke="#3a3a3a" stroke-width="1.0"/>
<text x="298.8" y="276.62" font-size="9.2" text-anchor="end" fill="#2a2a2a" stroke="#2a2a2a" stroke-width="0.22" textLength="11.5" lengthAdjust="spacingAndGlyphs">40</text>
<line x1="300.5" y1="248.38" x2="304" y2="248.38" stroke="#3a3a3a" stroke-width="1.0"/>
<text x="298.8" y="251.58" font-size="9.2" text-anchor="end" fill="#2a2a2a" stroke="#2a2a2a" stroke-width="0.22" textLength="11.5" lengthAdjust="spacingAndGlyphs">60</text>
<line x1="300.5" y1="223.34" x2="304" y2="223.34" stroke="#3a3a3a" stroke-width="1.0"/>
<text x="298.8" y="226.54" font-size="9.2" text-anchor="end" fill="#2a2a2a" stroke="#2a2a2a" stroke-width="0.22" textLength="11.5" lengthAdjust="spacingAndGlyphs">80</text>
<line x1="300.5" y1="198.3" x2="304" y2="198.3" stroke="#3a3a3a" stroke-width="1.0"/>
<text x="298.8" y="201.5" font-size="9.2" text-anchor="end" fill="#2a2a2a" stroke="#2a2a2a" stroke-width="0.22" textLength="17.2" lengthAdjust="spacingAndGlyphs">100</text>
<line x1="302.5" y1="336.02" x2="304" y2="336.02" stroke="#3a3a3a" stroke-width="1.0"/>
<line x1="302.5" y1="310.98" x2="304" y2="310.98" stroke="#3a3a3a" stroke-width="1.0"/>
<line x1="302.5" y1="285.94" x2="304" y2="285.94" stroke="#3a3a3a" stroke-width="1.0"/>
<line x1="302.5" y1="260.9" x2="304" y2="260.9" stroke="#3a3a3a" stroke-width="1.0"/>
<line x1="302.5" y1="235.86" x2="304" y2="235.86" stroke="#3a3a3a" stroke-width="1.0"/>
<line x1="302.5" y1="210.82" x2="304" y2="210.82" stroke="#3a3a3a" stroke-width="1.0"/>
<line x1="302.5" y1="185.78" x2="304" y2="185.78" stroke="#3a3a3a" stroke-width="1.0"/>
<line x1="326.7" y1="336.2" x2="326.7" y2="339.2" stroke="#3a3a3a" stroke-width="1.0"/>
<text x="326.7" y="348.6" font-size="9.2" text-anchor="middle" fill="#2a2a2a" stroke="#2a2a2a" stroke-width="0.22" textLength="6" lengthAdjust="spacingAndGlyphs">0</text>
<line x1="370.86" y1="336.2" x2="370.86" y2="339.2" stroke="#3a3a3a" stroke-width="1.0"/>
<text x="370.86" y="348.6" font-size="9.2" text-anchor="middle" fill="#2a2a2a" stroke="#2a2a2a" stroke-width="0.22" textLength="11.8" lengthAdjust="spacingAndGlyphs">20</text>
<line x1="415.02" y1="336.2" x2="415.02" y2="339.2" stroke="#3a3a3a" stroke-width="1.0"/>
<text x="415.02" y="348.6" font-size="9.2" text-anchor="middle" fill="#2a2a2a" stroke="#2a2a2a" stroke-width="0.22" textLength="11.8" lengthAdjust="spacingAndGlyphs">40</text>
<line x1="459.18" y1="336.2" x2="459.18" y2="339.2" stroke="#3a3a3a" stroke-width="1.0"/>
<text x="459.18" y="348.6" font-size="9.2" text-anchor="middle" fill="#2a2a2a" stroke="#2a2a2a" stroke-width="0.22" textLength="11.8" lengthAdjust="spacingAndGlyphs">60</text>
<line x1="503.34" y1="336.2" x2="503.34" y2="339.2" stroke="#3a3a3a" stroke-width="1.0"/>
<text x="503.34" y="348.6" font-size="9.2" text-anchor="middle" fill="#2a2a2a" stroke="#2a2a2a" stroke-width="0.22" textLength="11.8" lengthAdjust="spacingAndGlyphs">80</text>
<line x1="304.62" y1="336.2" x2="304.62" y2="338" stroke="#3a3a3a" stroke-width="1.0"/>
<line x1="348.78" y1="336.2" x2="348.78" y2="338" stroke="#3a3a3a" stroke-width="1.0"/>
<line x1="392.94" y1="336.2" x2="392.94" y2="338" stroke="#3a3a3a" stroke-width="1.0"/>
<line x1="437.1" y1="336.2" x2="437.1" y2="338" stroke="#3a3a3a" stroke-width="1.0"/>
<line x1="481.26" y1="336.2" x2="481.26" y2="338" stroke="#3a3a3a" stroke-width="1.0"/>
<line x1="525.42" y1="336.2" x2="525.42" y2="338" stroke="#3a3a3a" stroke-width="1.0"/>
<text x="415.8" y="362.1" font-size="10" text-anchor="middle" fill="#2a2a2a" stroke="#2a2a2a" stroke-width="0.22" textLength="116.5" lengthAdjust="spacingAndGlyphs">Degradation time (min)</text>
<text x="276.2" y="257.2" font-size="10.4" text-anchor="middle" fill="#2a2a2a" stroke="#2a2a2a" stroke-width="0.22" textLength="96.5" lengthAdjust="spacingAndGlyphs" transform="rotate(-90 276.2 257.2)">Degradation rate (%)</text>
<text x="305.2" y="197.3" font-size="9.2" text-anchor="start" fill="#2a2a2a" stroke="#2a2a2a" stroke-width="0.22" textLength="14.6" lengthAdjust="spacingAndGlyphs">(d)</text>
<line x1="328.2" y1="195.1" x2="349.5" y2="195.1" stroke="#555" stroke-width="1"/>
<rect x="337" y="193" width="4.2" height="4.2" fill="#111"/>
<text x="354" y="197.6" font-size="8.4" text-anchor="start" fill="#2a2a2a" stroke="#2a2a2a" stroke-width="0.22" textLength="41.5" lengthAdjust="spacingAndGlyphs">ZnO-NPs</text>
<line x1="328.2" y1="205" x2="349.5" y2="205" stroke="#e87aa0" stroke-width="1"/>
<circle cx="339.2" cy="205" r="2.3" fill="#f00a3c"/>
<text x="352.5" y="208.1" font-size="8.4" text-anchor="start" fill="#2a2a2a" stroke="#2a2a2a" stroke-width="0.22" textLength="56" lengthAdjust="spacingAndGlyphs">No ZnO-NPs</text>
<line x1="394" y1="261" x2="382.5" y2="261" stroke="#111" stroke-width="1.1"/>
<path d="M376,261 L382.5,258.2 L382.5,263.8 Z" fill="#111"/>
<text x="395" y="264.6" font-size="9.6" text-anchor="start" fill="#444" stroke="#444" stroke-width="0.15" style="font-family:'Liberation Serif', serif" textLength="26.8" lengthAdjust="spacingAndGlyphs">49.8%</text>
<line x1="393" y1="320" x2="380.77" y2="316.7" stroke="#f00a3c" stroke-width="1.1"/>
<path d="M374.5,315 L381.51,313.99 L380.04,319.4 Z" fill="#f00a3c"/>
<text x="395" y="324.6" font-size="9.6" text-anchor="start" fill="#444" stroke="#444" stroke-width="0.15" style="font-family:'Liberation Serif', serif" textLength="20.4" lengthAdjust="spacingAndGlyphs">8.6%</text>
<line x1="489" y1="218" x2="497.5" y2="207.12" stroke="#111" stroke-width="1.1"/>
<path d="M501.5,202 L499.7,208.85 L495.29,205.4 Z" fill="#111"/>
<text x="475.2" y="228" font-size="9.6" text-anchor="start" fill="#444" stroke="#444" stroke-width="0.15" style="font-family:'Liberation Serif', serif" textLength="26" lengthAdjust="spacingAndGlyphs">99.7%</text>
<line x1="495.7" y1="315.6" x2="499.51" y2="308.27" stroke="#f00a3c" stroke-width="1.1"/>
<path d="M502.5,302.5 L501.99,309.56 L497.02,306.98 Z" fill="#f00a3c"/>
<text x="483.4" y="324.6" font-size="9.6" text-anchor="start" fill="#444" stroke="#444" stroke-width="0.15" style="font-family:'Liberation Serif', serif" textLength="26" lengthAdjust="spacingAndGlyphs">19.1%</text>
</svg></body></html>
